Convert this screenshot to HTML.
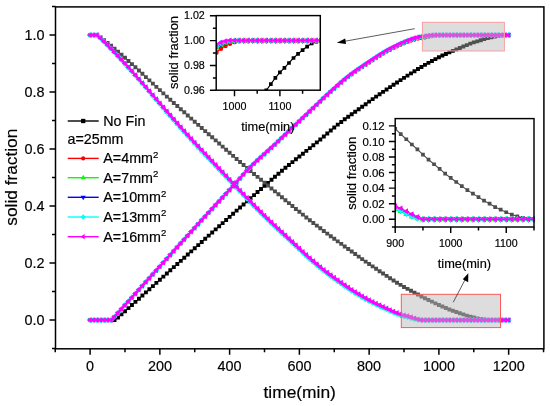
<!DOCTYPE html><html><head><meta charset="utf-8"><title>solid fraction</title><style>html,body{margin:0;padding:0;background:#fff}svg{display:block}text{stroke:#000;stroke-width:0.18px}</style></head><body><svg width="550" height="406" viewBox="0 0 550 406" font-family="'Liberation Sans', Arial, sans-serif" fill="#000"><rect width="550" height="406" fill="#fff"/><g><polyline points="90.10,320.10 93.59,320.10 97.08,320.10 100.56,320.10 104.05,320.10 107.54,320.10 111.03,320.10 114.52,320.10 118.00,317.54 121.49,314.40 124.98,311.26 128.47,308.12 131.96,304.97 135.44,301.83 138.93,298.68 142.42,295.53 145.91,292.38 149.40,289.23 152.88,286.08 156.37,282.92 159.86,279.77 163.35,276.61 166.84,273.46 170.32,270.30 173.81,267.15 177.30,264.00 180.79,260.84 184.28,257.69 187.76,254.54 191.25,251.39 194.74,248.24 198.23,245.10 201.72,241.95 205.20,238.81 208.69,235.67 212.18,232.53 215.67,229.40 219.16,226.27 222.64,223.14 226.13,220.01 229.62,216.89 233.11,213.78 236.60,210.66 240.08,207.55 243.57,204.44 247.06,201.33 250.55,198.23 254.04,195.13 257.52,192.04 261.01,188.96 264.50,185.89 267.99,182.84 271.48,179.78 274.96,176.73 278.45,173.70 281.94,170.73 285.43,167.80 288.92,164.93 292.40,162.10 295.89,159.29 299.38,156.49 302.87,153.71 306.36,150.91 309.84,148.10 313.33,145.26 316.82,142.38 320.31,139.44 323.80,136.44 327.28,133.44 330.77,130.45 334.26,127.52 337.75,124.67 341.24,121.94 344.72,119.31 348.21,116.77 351.70,114.27 355.19,111.79 358.68,109.30 362.16,106.77 365.65,104.22 369.14,101.66 372.63,99.11 376.12,96.62 379.60,94.19 383.09,91.83 386.58,89.48 390.07,87.14 393.56,84.80 397.04,82.47 400.53,80.17 404.02,77.88 407.51,75.63 411.00,73.40 414.48,71.21 417.97,69.06 421.46,66.96 424.95,64.91 428.44,62.91 431.92,60.97 435.41,59.09 438.90,57.29 442.39,55.56 445.88,53.93 449.36,52.37 452.85,50.87 456.34,49.40 459.83,47.95 463.32,46.50 466.80,45.08 470.29,43.65 473.78,42.37 477.27,41.37 480.76,40.23 484.24,39.09 487.73,38.15 491.22,37.27 494.71,36.47 498.20,35.76 501.68,35.33 505.17,35.10 508.66,35.10" fill="none" stroke="#000" stroke-width="1"/><path d="M88.15 318.15h3.90v3.90h-3.90zM91.64 318.15h3.90v3.90h-3.90zM95.13 318.15h3.90v3.90h-3.90zM98.61 318.15h3.90v3.90h-3.90zM102.10 318.15h3.90v3.90h-3.90zM105.59 318.15h3.90v3.90h-3.90zM109.08 318.15h3.90v3.90h-3.90zM112.57 318.15h3.90v3.90h-3.90zM116.05 315.59h3.90v3.90h-3.90zM119.54 312.45h3.90v3.90h-3.90zM123.03 309.31h3.90v3.90h-3.90zM126.52 306.17h3.90v3.90h-3.90zM130.01 303.02h3.90v3.90h-3.90zM133.49 299.88h3.90v3.90h-3.90zM136.98 296.73h3.90v3.90h-3.90zM140.47 293.58h3.90v3.90h-3.90zM143.96 290.43h3.90v3.90h-3.90zM147.45 287.28h3.90v3.90h-3.90zM150.93 284.13h3.90v3.90h-3.90zM154.42 280.97h3.90v3.90h-3.90zM157.91 277.82h3.90v3.90h-3.90zM161.40 274.66h3.90v3.90h-3.90zM164.89 271.51h3.90v3.90h-3.90zM168.37 268.35h3.90v3.90h-3.90zM171.86 265.20h3.90v3.90h-3.90zM175.35 262.05h3.90v3.90h-3.90zM178.84 258.89h3.90v3.90h-3.90zM182.33 255.74h3.90v3.90h-3.90zM185.81 252.59h3.90v3.90h-3.90zM189.30 249.44h3.90v3.90h-3.90zM192.79 246.29h3.90v3.90h-3.90zM196.28 243.15h3.90v3.90h-3.90zM199.77 240.00h3.90v3.90h-3.90zM203.25 236.86h3.90v3.90h-3.90zM206.74 233.72h3.90v3.90h-3.90zM210.23 230.58h3.90v3.90h-3.90zM213.72 227.45h3.90v3.90h-3.90zM217.21 224.32h3.90v3.90h-3.90zM220.69 221.19h3.90v3.90h-3.90zM224.18 218.06h3.90v3.90h-3.90zM227.67 214.94h3.90v3.90h-3.90zM231.16 211.83h3.90v3.90h-3.90zM234.65 208.71h3.90v3.90h-3.90zM238.13 205.60h3.90v3.90h-3.90zM241.62 202.49h3.90v3.90h-3.90zM245.11 199.38h3.90v3.90h-3.90zM248.60 196.28h3.90v3.90h-3.90zM252.09 193.18h3.90v3.90h-3.90zM255.57 190.09h3.90v3.90h-3.90zM259.06 187.01h3.90v3.90h-3.90zM262.55 183.94h3.90v3.90h-3.90zM266.04 180.89h3.90v3.90h-3.90zM269.53 177.83h3.90v3.90h-3.90zM273.01 174.78h3.90v3.90h-3.90zM276.50 171.75h3.90v3.90h-3.90zM279.99 168.78h3.90v3.90h-3.90zM283.48 165.85h3.90v3.90h-3.90zM286.97 162.98h3.90v3.90h-3.90zM290.45 160.15h3.90v3.90h-3.90zM293.94 157.34h3.90v3.90h-3.90zM297.43 154.54h3.90v3.90h-3.90zM300.92 151.76h3.90v3.90h-3.90zM304.41 148.96h3.90v3.90h-3.90zM307.89 146.15h3.90v3.90h-3.90zM311.38 143.31h3.90v3.90h-3.90zM314.87 140.43h3.90v3.90h-3.90zM318.36 137.49h3.90v3.90h-3.90zM321.85 134.49h3.90v3.90h-3.90zM325.33 131.49h3.90v3.90h-3.90zM328.82 128.50h3.90v3.90h-3.90zM332.31 125.57h3.90v3.90h-3.90zM335.80 122.72h3.90v3.90h-3.90zM339.29 119.99h3.90v3.90h-3.90zM342.77 117.36h3.90v3.90h-3.90zM346.26 114.82h3.90v3.90h-3.90zM349.75 112.32h3.90v3.90h-3.90zM353.24 109.84h3.90v3.90h-3.90zM356.73 107.35h3.90v3.90h-3.90zM360.21 104.82h3.90v3.90h-3.90zM363.70 102.27h3.90v3.90h-3.90zM367.19 99.71h3.90v3.90h-3.90zM370.68 97.16h3.90v3.90h-3.90zM374.17 94.67h3.90v3.90h-3.90zM377.65 92.24h3.90v3.90h-3.90zM381.14 89.88h3.90v3.90h-3.90zM384.63 87.53h3.90v3.90h-3.90zM388.12 85.19h3.90v3.90h-3.90zM391.61 82.85h3.90v3.90h-3.90zM395.09 80.52h3.90v3.90h-3.90zM398.58 78.22h3.90v3.90h-3.90zM402.07 75.93h3.90v3.90h-3.90zM405.56 73.68h3.90v3.90h-3.90zM409.05 71.45h3.90v3.90h-3.90zM412.53 69.26h3.90v3.90h-3.90zM416.02 67.11h3.90v3.90h-3.90zM419.51 65.01h3.90v3.90h-3.90zM423.00 62.96h3.90v3.90h-3.90zM426.49 60.96h3.90v3.90h-3.90zM429.97 59.02h3.90v3.90h-3.90zM433.46 57.14h3.90v3.90h-3.90zM436.95 55.34h3.90v3.90h-3.90zM440.44 53.61h3.90v3.90h-3.90zM443.93 51.98h3.90v3.90h-3.90zM447.41 50.42h3.90v3.90h-3.90zM450.90 48.92h3.90v3.90h-3.90zM454.39 47.45h3.90v3.90h-3.90zM457.88 46.00h3.90v3.90h-3.90zM461.37 44.55h3.90v3.90h-3.90zM464.85 43.13h3.90v3.90h-3.90zM468.34 41.70h3.90v3.90h-3.90zM471.83 40.42h3.90v3.90h-3.90zM475.32 39.42h3.90v3.90h-3.90zM478.81 38.28h3.90v3.90h-3.90zM482.29 37.14h3.90v3.90h-3.90zM485.78 36.20h3.90v3.90h-3.90zM489.27 35.32h3.90v3.90h-3.90zM492.76 34.52h3.90v3.90h-3.90zM496.25 33.81h3.90v3.90h-3.90zM499.73 33.38h3.90v3.90h-3.90zM503.22 33.15h3.90v3.90h-3.90zM506.71 33.15h3.90v3.90h-3.90z" fill="#000"/><polyline points="90.10,35.10 93.59,35.10 97.08,35.10 100.56,37.52 104.05,40.19 107.54,42.95 111.03,45.79 114.52,48.70 118.00,51.67 121.49,54.71 124.98,57.80 128.47,60.93 131.96,64.11 135.44,67.32 138.93,70.55 142.42,73.81 145.91,77.08 149.40,80.35 152.88,83.63 156.37,86.90 159.86,90.16 163.35,93.40 166.84,96.61 170.32,99.79 173.81,102.93 177.30,106.05 180.79,109.18 184.28,112.31 187.76,115.44 191.25,118.58 194.74,121.71 198.23,124.84 201.72,127.97 205.20,131.09 208.69,134.21 212.18,137.31 215.67,140.41 219.16,143.51 222.64,146.62 226.13,149.72 229.62,152.81 233.11,155.90 236.60,158.97 240.08,162.03 243.57,165.06 247.06,168.06 250.55,171.03 254.04,173.96 257.52,176.85 261.01,179.74 264.50,182.62 267.99,185.52 271.48,188.44 274.96,191.37 278.45,194.31 281.94,197.26 285.43,200.20 288.92,203.13 292.40,206.05 295.89,208.95 299.38,211.82 302.87,214.66 306.36,217.46 309.84,220.21 313.33,222.94 316.82,225.63 320.31,228.30 323.80,230.95 327.28,233.58 330.77,236.19 334.26,238.78 337.75,241.36 341.24,243.92 344.72,246.47 348.21,249.01 351.70,251.54 355.19,254.07 358.68,256.59 362.16,259.10 365.65,261.58 369.14,264.01 372.63,266.41 376.12,268.81 379.60,271.20 383.09,273.57 386.58,275.91 390.07,278.22 393.56,280.49 397.04,282.71 400.53,284.86 404.02,286.95 407.51,288.89 411.00,290.80 414.48,292.71 417.97,294.54 421.46,296.45 424.95,298.27 428.44,299.95 431.92,301.66 435.41,303.37 438.90,304.97 442.39,306.45 445.88,307.96 449.36,309.44 452.85,310.72 456.34,312.01 459.83,313.29 463.32,314.40 466.80,315.63 470.29,316.59 473.78,317.54 477.27,318.39 480.76,319.05 484.24,319.56 487.73,319.90 491.22,320.10 494.71,320.10 498.20,320.10 501.68,320.10 505.17,320.10 508.66,320.10" fill="none" stroke="#4d4d4d" stroke-width="1"/><path d="M88.15 33.15h3.90v3.90h-3.90zM91.64 33.15h3.90v3.90h-3.90zM95.13 33.15h3.90v3.90h-3.90zM98.61 35.57h3.90v3.90h-3.90zM102.10 38.24h3.90v3.90h-3.90zM105.59 41.00h3.90v3.90h-3.90zM109.08 43.84h3.90v3.90h-3.90zM112.57 46.75h3.90v3.90h-3.90zM116.05 49.72h3.90v3.90h-3.90zM119.54 52.76h3.90v3.90h-3.90zM123.03 55.85h3.90v3.90h-3.90zM126.52 58.98h3.90v3.90h-3.90zM130.01 62.16h3.90v3.90h-3.90zM133.49 65.37h3.90v3.90h-3.90zM136.98 68.60h3.90v3.90h-3.90zM140.47 71.86h3.90v3.90h-3.90zM143.96 75.13h3.90v3.90h-3.90zM147.45 78.40h3.90v3.90h-3.90zM150.93 81.68h3.90v3.90h-3.90zM154.42 84.95h3.90v3.90h-3.90zM157.91 88.21h3.90v3.90h-3.90zM161.40 91.45h3.90v3.90h-3.90zM164.89 94.66h3.90v3.90h-3.90zM168.37 97.84h3.90v3.90h-3.90zM171.86 100.98h3.90v3.90h-3.90zM175.35 104.10h3.90v3.90h-3.90zM178.84 107.23h3.90v3.90h-3.90zM182.33 110.36h3.90v3.90h-3.90zM185.81 113.49h3.90v3.90h-3.90zM189.30 116.63h3.90v3.90h-3.90zM192.79 119.76h3.90v3.90h-3.90zM196.28 122.89h3.90v3.90h-3.90zM199.77 126.02h3.90v3.90h-3.90zM203.25 129.14h3.90v3.90h-3.90zM206.74 132.26h3.90v3.90h-3.90zM210.23 135.36h3.90v3.90h-3.90zM213.72 138.46h3.90v3.90h-3.90zM217.21 141.56h3.90v3.90h-3.90zM220.69 144.67h3.90v3.90h-3.90zM224.18 147.77h3.90v3.90h-3.90zM227.67 150.86h3.90v3.90h-3.90zM231.16 153.95h3.90v3.90h-3.90zM234.65 157.02h3.90v3.90h-3.90zM238.13 160.08h3.90v3.90h-3.90zM241.62 163.11h3.90v3.90h-3.90zM245.11 166.11h3.90v3.90h-3.90zM248.60 169.08h3.90v3.90h-3.90zM252.09 172.01h3.90v3.90h-3.90zM255.57 174.90h3.90v3.90h-3.90zM259.06 177.79h3.90v3.90h-3.90zM262.55 180.67h3.90v3.90h-3.90zM266.04 183.57h3.90v3.90h-3.90zM269.53 186.49h3.90v3.90h-3.90zM273.01 189.42h3.90v3.90h-3.90zM276.50 192.36h3.90v3.90h-3.90zM279.99 195.31h3.90v3.90h-3.90zM283.48 198.25h3.90v3.90h-3.90zM286.97 201.18h3.90v3.90h-3.90zM290.45 204.10h3.90v3.90h-3.90zM293.94 207.00h3.90v3.90h-3.90zM297.43 209.87h3.90v3.90h-3.90zM300.92 212.71h3.90v3.90h-3.90zM304.41 215.51h3.90v3.90h-3.90zM307.89 218.26h3.90v3.90h-3.90zM311.38 220.99h3.90v3.90h-3.90zM314.87 223.68h3.90v3.90h-3.90zM318.36 226.35h3.90v3.90h-3.90zM321.85 229.00h3.90v3.90h-3.90zM325.33 231.63h3.90v3.90h-3.90zM328.82 234.24h3.90v3.90h-3.90zM332.31 236.83h3.90v3.90h-3.90zM335.80 239.41h3.90v3.90h-3.90zM339.29 241.97h3.90v3.90h-3.90zM342.77 244.52h3.90v3.90h-3.90zM346.26 247.06h3.90v3.90h-3.90zM349.75 249.59h3.90v3.90h-3.90zM353.24 252.12h3.90v3.90h-3.90zM356.73 254.64h3.90v3.90h-3.90zM360.21 257.15h3.90v3.90h-3.90zM363.70 259.63h3.90v3.90h-3.90zM367.19 262.06h3.90v3.90h-3.90zM370.68 264.46h3.90v3.90h-3.90zM374.17 266.86h3.90v3.90h-3.90zM377.65 269.25h3.90v3.90h-3.90zM381.14 271.62h3.90v3.90h-3.90zM384.63 273.96h3.90v3.90h-3.90zM388.12 276.27h3.90v3.90h-3.90zM391.61 278.54h3.90v3.90h-3.90zM395.09 280.76h3.90v3.90h-3.90zM398.58 282.91h3.90v3.90h-3.90zM402.07 285.00h3.90v3.90h-3.90zM405.56 286.94h3.90v3.90h-3.90zM409.05 288.85h3.90v3.90h-3.90zM412.53 290.76h3.90v3.90h-3.90zM416.02 292.59h3.90v3.90h-3.90zM419.51 294.50h3.90v3.90h-3.90zM423.00 296.32h3.90v3.90h-3.90zM426.49 298.00h3.90v3.90h-3.90zM429.97 299.71h3.90v3.90h-3.90zM433.46 301.42h3.90v3.90h-3.90zM436.95 303.02h3.90v3.90h-3.90zM440.44 304.50h3.90v3.90h-3.90zM443.93 306.01h3.90v3.90h-3.90zM447.41 307.49h3.90v3.90h-3.90zM450.90 308.77h3.90v3.90h-3.90zM454.39 310.06h3.90v3.90h-3.90zM457.88 311.34h3.90v3.90h-3.90zM461.37 312.45h3.90v3.90h-3.90zM464.85 313.68h3.90v3.90h-3.90zM468.34 314.64h3.90v3.90h-3.90zM471.83 315.59h3.90v3.90h-3.90zM475.32 316.44h3.90v3.90h-3.90zM478.81 317.10h3.90v3.90h-3.90zM482.29 317.61h3.90v3.90h-3.90zM485.78 317.95h3.90v3.90h-3.90zM489.27 318.15h3.90v3.90h-3.90zM492.76 318.15h3.90v3.90h-3.90zM496.25 318.15h3.90v3.90h-3.90zM499.73 318.15h3.90v3.90h-3.90zM503.22 318.15h3.90v3.90h-3.90zM506.71 318.15h3.90v3.90h-3.90z" fill="#4d4d4d"/><polyline points="90.10,35.10 93.59,35.10 97.08,35.10 100.56,38.25 104.05,41.66 107.54,45.15 111.03,48.72 114.52,52.36 118.00,56.06 121.49,59.81 124.98,63.63 128.47,67.49 131.96,71.39 135.44,75.33 138.93,79.31 142.42,83.31 145.91,87.33 149.40,91.37 152.88,95.42 156.37,99.48 159.86,103.53 163.35,107.58 166.84,111.63 170.32,115.65 173.81,119.66 177.30,123.63 180.79,127.58 184.28,131.49 187.76,135.36 191.25,139.18 194.74,142.96 198.23,146.71 201.72,150.45 205.20,154.18 208.69,157.89 212.18,161.60 215.67,165.29 219.16,168.97 222.64,172.65 226.13,176.31 229.62,179.97 233.11,183.62 236.60,187.28 240.08,190.94 243.57,194.60 247.06,198.25 250.55,201.88 254.04,205.48 257.52,209.04 261.01,212.55 264.50,216.00 267.99,219.39 271.48,222.74 274.96,226.05 278.45,229.32 281.94,232.58 285.43,235.83 288.92,239.07 292.40,242.31 295.89,245.58 299.38,248.88 302.87,252.17 306.36,255.41 309.84,258.53 313.33,261.55 316.82,264.52 320.31,267.43 323.80,270.24 327.28,272.97 330.77,275.58 334.26,278.13 337.75,280.64 341.24,283.11 344.72,285.53 348.21,287.90 351.70,290.20 355.19,292.43 358.68,294.59 362.16,296.67 365.65,298.67 369.14,300.56 372.63,302.31 376.12,303.98 379.60,305.59 383.09,307.22 386.58,308.86 390.07,310.46 393.56,311.99 397.04,313.41 400.53,314.67 404.02,315.74 407.51,316.54 411.00,317.59 414.48,318.62 417.97,319.52 421.46,320.10 424.95,320.10 428.44,320.10 431.92,320.10 435.41,320.10 438.90,320.10 442.39,320.10 445.88,320.10 449.36,320.10 452.85,320.10 456.34,320.10 459.83,320.10 463.32,320.10 466.80,320.10 470.29,320.10 473.78,320.10 477.27,320.10 480.76,320.10 484.24,320.10 487.73,320.10 491.22,320.10 494.71,320.10 498.20,320.10 501.68,320.10 505.17,320.10 508.66,320.10" fill="none" stroke="#ff0000" stroke-width="1.2"/><path d="M88.27 35.10a1.83 1.83 0 1 0 3.65 0a1.83 1.83 0 1 0 -3.65 0zM91.76 35.10a1.83 1.83 0 1 0 3.65 0a1.83 1.83 0 1 0 -3.65 0zM95.25 35.10a1.83 1.83 0 1 0 3.65 0a1.83 1.83 0 1 0 -3.65 0zM98.74 38.25a1.83 1.83 0 1 0 3.65 0a1.83 1.83 0 1 0 -3.65 0zM102.22 41.66a1.83 1.83 0 1 0 3.65 0a1.83 1.83 0 1 0 -3.65 0zM105.71 45.15a1.83 1.83 0 1 0 3.65 0a1.83 1.83 0 1 0 -3.65 0zM109.20 48.72a1.83 1.83 0 1 0 3.65 0a1.83 1.83 0 1 0 -3.65 0zM112.69 52.36a1.83 1.83 0 1 0 3.65 0a1.83 1.83 0 1 0 -3.65 0zM116.18 56.06a1.83 1.83 0 1 0 3.65 0a1.83 1.83 0 1 0 -3.65 0zM119.66 59.81a1.83 1.83 0 1 0 3.65 0a1.83 1.83 0 1 0 -3.65 0zM123.15 63.63a1.83 1.83 0 1 0 3.65 0a1.83 1.83 0 1 0 -3.65 0zM126.64 67.49a1.83 1.83 0 1 0 3.65 0a1.83 1.83 0 1 0 -3.65 0zM130.13 71.39a1.83 1.83 0 1 0 3.65 0a1.83 1.83 0 1 0 -3.65 0zM133.62 75.33a1.83 1.83 0 1 0 3.65 0a1.83 1.83 0 1 0 -3.65 0zM137.10 79.31a1.83 1.83 0 1 0 3.65 0a1.83 1.83 0 1 0 -3.65 0zM140.59 83.31a1.83 1.83 0 1 0 3.65 0a1.83 1.83 0 1 0 -3.65 0zM144.08 87.33a1.83 1.83 0 1 0 3.65 0a1.83 1.83 0 1 0 -3.65 0zM147.57 91.37a1.83 1.83 0 1 0 3.65 0a1.83 1.83 0 1 0 -3.65 0zM151.06 95.42a1.83 1.83 0 1 0 3.65 0a1.83 1.83 0 1 0 -3.65 0zM154.54 99.48a1.83 1.83 0 1 0 3.65 0a1.83 1.83 0 1 0 -3.65 0zM158.03 103.53a1.83 1.83 0 1 0 3.65 0a1.83 1.83 0 1 0 -3.65 0zM161.52 107.58a1.83 1.83 0 1 0 3.65 0a1.83 1.83 0 1 0 -3.65 0zM165.01 111.63a1.83 1.83 0 1 0 3.65 0a1.83 1.83 0 1 0 -3.65 0zM168.50 115.65a1.83 1.83 0 1 0 3.65 0a1.83 1.83 0 1 0 -3.65 0zM171.98 119.66a1.83 1.83 0 1 0 3.65 0a1.83 1.83 0 1 0 -3.65 0zM175.47 123.63a1.83 1.83 0 1 0 3.65 0a1.83 1.83 0 1 0 -3.65 0zM178.96 127.58a1.83 1.83 0 1 0 3.65 0a1.83 1.83 0 1 0 -3.65 0zM182.45 131.49a1.83 1.83 0 1 0 3.65 0a1.83 1.83 0 1 0 -3.65 0zM185.94 135.36a1.83 1.83 0 1 0 3.65 0a1.83 1.83 0 1 0 -3.65 0zM189.42 139.18a1.83 1.83 0 1 0 3.65 0a1.83 1.83 0 1 0 -3.65 0zM192.91 142.96a1.83 1.83 0 1 0 3.65 0a1.83 1.83 0 1 0 -3.65 0zM196.40 146.71a1.83 1.83 0 1 0 3.65 0a1.83 1.83 0 1 0 -3.65 0zM199.89 150.45a1.83 1.83 0 1 0 3.65 0a1.83 1.83 0 1 0 -3.65 0zM203.38 154.18a1.83 1.83 0 1 0 3.65 0a1.83 1.83 0 1 0 -3.65 0zM206.86 157.89a1.83 1.83 0 1 0 3.65 0a1.83 1.83 0 1 0 -3.65 0zM210.35 161.60a1.83 1.83 0 1 0 3.65 0a1.83 1.83 0 1 0 -3.65 0zM213.84 165.29a1.83 1.83 0 1 0 3.65 0a1.83 1.83 0 1 0 -3.65 0zM217.33 168.97a1.83 1.83 0 1 0 3.65 0a1.83 1.83 0 1 0 -3.65 0zM220.82 172.65a1.83 1.83 0 1 0 3.65 0a1.83 1.83 0 1 0 -3.65 0zM224.30 176.31a1.83 1.83 0 1 0 3.65 0a1.83 1.83 0 1 0 -3.65 0zM227.79 179.97a1.83 1.83 0 1 0 3.65 0a1.83 1.83 0 1 0 -3.65 0zM231.28 183.62a1.83 1.83 0 1 0 3.65 0a1.83 1.83 0 1 0 -3.65 0zM234.77 187.28a1.83 1.83 0 1 0 3.65 0a1.83 1.83 0 1 0 -3.65 0zM238.26 190.94a1.83 1.83 0 1 0 3.65 0a1.83 1.83 0 1 0 -3.65 0zM241.74 194.60a1.83 1.83 0 1 0 3.65 0a1.83 1.83 0 1 0 -3.65 0zM245.23 198.25a1.83 1.83 0 1 0 3.65 0a1.83 1.83 0 1 0 -3.65 0zM248.72 201.88a1.83 1.83 0 1 0 3.65 0a1.83 1.83 0 1 0 -3.65 0zM252.21 205.48a1.83 1.83 0 1 0 3.65 0a1.83 1.83 0 1 0 -3.65 0zM255.70 209.04a1.83 1.83 0 1 0 3.65 0a1.83 1.83 0 1 0 -3.65 0zM259.18 212.55a1.83 1.83 0 1 0 3.65 0a1.83 1.83 0 1 0 -3.65 0zM262.67 216.00a1.83 1.83 0 1 0 3.65 0a1.83 1.83 0 1 0 -3.65 0zM266.16 219.39a1.83 1.83 0 1 0 3.65 0a1.83 1.83 0 1 0 -3.65 0zM269.65 222.74a1.83 1.83 0 1 0 3.65 0a1.83 1.83 0 1 0 -3.65 0zM273.14 226.05a1.83 1.83 0 1 0 3.65 0a1.83 1.83 0 1 0 -3.65 0zM276.62 229.32a1.83 1.83 0 1 0 3.65 0a1.83 1.83 0 1 0 -3.65 0zM280.11 232.58a1.83 1.83 0 1 0 3.65 0a1.83 1.83 0 1 0 -3.65 0zM283.60 235.83a1.83 1.83 0 1 0 3.65 0a1.83 1.83 0 1 0 -3.65 0zM287.09 239.07a1.83 1.83 0 1 0 3.65 0a1.83 1.83 0 1 0 -3.65 0zM290.58 242.31a1.83 1.83 0 1 0 3.65 0a1.83 1.83 0 1 0 -3.65 0zM294.06 245.58a1.83 1.83 0 1 0 3.65 0a1.83 1.83 0 1 0 -3.65 0zM297.55 248.88a1.83 1.83 0 1 0 3.65 0a1.83 1.83 0 1 0 -3.65 0zM301.04 252.17a1.83 1.83 0 1 0 3.65 0a1.83 1.83 0 1 0 -3.65 0zM304.53 255.41a1.83 1.83 0 1 0 3.65 0a1.83 1.83 0 1 0 -3.65 0zM308.02 258.53a1.83 1.83 0 1 0 3.65 0a1.83 1.83 0 1 0 -3.65 0zM311.50 261.55a1.83 1.83 0 1 0 3.65 0a1.83 1.83 0 1 0 -3.65 0zM314.99 264.52a1.83 1.83 0 1 0 3.65 0a1.83 1.83 0 1 0 -3.65 0zM318.48 267.43a1.83 1.83 0 1 0 3.65 0a1.83 1.83 0 1 0 -3.65 0zM321.97 270.24a1.83 1.83 0 1 0 3.65 0a1.83 1.83 0 1 0 -3.65 0zM325.46 272.97a1.83 1.83 0 1 0 3.65 0a1.83 1.83 0 1 0 -3.65 0zM328.94 275.58a1.83 1.83 0 1 0 3.65 0a1.83 1.83 0 1 0 -3.65 0zM332.43 278.13a1.83 1.83 0 1 0 3.65 0a1.83 1.83 0 1 0 -3.65 0zM335.92 280.64a1.83 1.83 0 1 0 3.65 0a1.83 1.83 0 1 0 -3.65 0zM339.41 283.11a1.83 1.83 0 1 0 3.65 0a1.83 1.83 0 1 0 -3.65 0zM342.90 285.53a1.83 1.83 0 1 0 3.65 0a1.83 1.83 0 1 0 -3.65 0zM346.38 287.90a1.83 1.83 0 1 0 3.65 0a1.83 1.83 0 1 0 -3.65 0zM349.87 290.20a1.83 1.83 0 1 0 3.65 0a1.83 1.83 0 1 0 -3.65 0zM353.36 292.43a1.83 1.83 0 1 0 3.65 0a1.83 1.83 0 1 0 -3.65 0zM356.85 294.59a1.83 1.83 0 1 0 3.65 0a1.83 1.83 0 1 0 -3.65 0zM360.34 296.67a1.83 1.83 0 1 0 3.65 0a1.83 1.83 0 1 0 -3.65 0zM363.82 298.67a1.83 1.83 0 1 0 3.65 0a1.83 1.83 0 1 0 -3.65 0zM367.31 300.56a1.83 1.83 0 1 0 3.65 0a1.83 1.83 0 1 0 -3.65 0zM370.80 302.31a1.83 1.83 0 1 0 3.65 0a1.83 1.83 0 1 0 -3.65 0zM374.29 303.98a1.83 1.83 0 1 0 3.65 0a1.83 1.83 0 1 0 -3.65 0zM377.78 305.59a1.83 1.83 0 1 0 3.65 0a1.83 1.83 0 1 0 -3.65 0zM381.26 307.22a1.83 1.83 0 1 0 3.65 0a1.83 1.83 0 1 0 -3.65 0zM384.75 308.86a1.83 1.83 0 1 0 3.65 0a1.83 1.83 0 1 0 -3.65 0zM388.24 310.46a1.83 1.83 0 1 0 3.65 0a1.83 1.83 0 1 0 -3.65 0zM391.73 311.99a1.83 1.83 0 1 0 3.65 0a1.83 1.83 0 1 0 -3.65 0zM395.22 313.41a1.83 1.83 0 1 0 3.65 0a1.83 1.83 0 1 0 -3.65 0zM398.70 314.67a1.83 1.83 0 1 0 3.65 0a1.83 1.83 0 1 0 -3.65 0zM402.19 315.74a1.83 1.83 0 1 0 3.65 0a1.83 1.83 0 1 0 -3.65 0zM405.68 316.54a1.83 1.83 0 1 0 3.65 0a1.83 1.83 0 1 0 -3.65 0zM409.17 317.59a1.83 1.83 0 1 0 3.65 0a1.83 1.83 0 1 0 -3.65 0zM412.66 318.62a1.83 1.83 0 1 0 3.65 0a1.83 1.83 0 1 0 -3.65 0zM416.14 319.52a1.83 1.83 0 1 0 3.65 0a1.83 1.83 0 1 0 -3.65 0zM419.63 320.10a1.83 1.83 0 1 0 3.65 0a1.83 1.83 0 1 0 -3.65 0zM423.12 320.10a1.83 1.83 0 1 0 3.65 0a1.83 1.83 0 1 0 -3.65 0zM426.61 320.10a1.83 1.83 0 1 0 3.65 0a1.83 1.83 0 1 0 -3.65 0zM430.10 320.10a1.83 1.83 0 1 0 3.65 0a1.83 1.83 0 1 0 -3.65 0zM433.58 320.10a1.83 1.83 0 1 0 3.65 0a1.83 1.83 0 1 0 -3.65 0zM437.07 320.10a1.83 1.83 0 1 0 3.65 0a1.83 1.83 0 1 0 -3.65 0zM440.56 320.10a1.83 1.83 0 1 0 3.65 0a1.83 1.83 0 1 0 -3.65 0zM444.05 320.10a1.83 1.83 0 1 0 3.65 0a1.83 1.83 0 1 0 -3.65 0zM447.54 320.10a1.83 1.83 0 1 0 3.65 0a1.83 1.83 0 1 0 -3.65 0zM451.02 320.10a1.83 1.83 0 1 0 3.65 0a1.83 1.83 0 1 0 -3.65 0zM454.51 320.10a1.83 1.83 0 1 0 3.65 0a1.83 1.83 0 1 0 -3.65 0zM458.00 320.10a1.83 1.83 0 1 0 3.65 0a1.83 1.83 0 1 0 -3.65 0zM461.49 320.10a1.83 1.83 0 1 0 3.65 0a1.83 1.83 0 1 0 -3.65 0zM464.98 320.10a1.83 1.83 0 1 0 3.65 0a1.83 1.83 0 1 0 -3.65 0zM468.46 320.10a1.83 1.83 0 1 0 3.65 0a1.83 1.83 0 1 0 -3.65 0zM471.95 320.10a1.83 1.83 0 1 0 3.65 0a1.83 1.83 0 1 0 -3.65 0zM475.44 320.10a1.83 1.83 0 1 0 3.65 0a1.83 1.83 0 1 0 -3.65 0zM478.93 320.10a1.83 1.83 0 1 0 3.65 0a1.83 1.83 0 1 0 -3.65 0zM482.42 320.10a1.83 1.83 0 1 0 3.65 0a1.83 1.83 0 1 0 -3.65 0zM485.90 320.10a1.83 1.83 0 1 0 3.65 0a1.83 1.83 0 1 0 -3.65 0zM489.39 320.10a1.83 1.83 0 1 0 3.65 0a1.83 1.83 0 1 0 -3.65 0zM492.88 320.10a1.83 1.83 0 1 0 3.65 0a1.83 1.83 0 1 0 -3.65 0zM496.37 320.10a1.83 1.83 0 1 0 3.65 0a1.83 1.83 0 1 0 -3.65 0zM499.86 320.10a1.83 1.83 0 1 0 3.65 0a1.83 1.83 0 1 0 -3.65 0zM503.34 320.10a1.83 1.83 0 1 0 3.65 0a1.83 1.83 0 1 0 -3.65 0zM506.83 320.10a1.83 1.83 0 1 0 3.65 0a1.83 1.83 0 1 0 -3.65 0z" fill="#ff0000"/><polyline points="90.10,320.10 93.59,320.10 97.08,320.10 100.56,320.10 104.05,320.10 107.54,320.10 111.03,320.10 114.52,316.68 118.00,312.83 121.49,308.98 124.98,305.12 128.47,301.26 131.96,297.39 135.44,293.52 138.93,289.65 142.42,285.78 145.91,281.90 149.40,278.03 152.88,274.15 156.37,270.28 159.86,266.40 163.35,262.53 166.84,258.65 170.32,254.78 173.81,250.91 177.30,247.05 180.79,243.19 184.28,239.33 187.76,235.47 191.25,231.62 194.74,227.78 198.23,223.94 201.72,220.11 205.20,216.29 208.69,212.47 212.18,208.67 215.67,204.90 219.16,201.13 222.64,197.36 226.13,193.58 229.62,189.80 233.11,185.99 236.60,182.14 240.08,178.18 243.57,174.24 247.06,170.44 250.55,166.89 254.04,163.49 257.52,160.21 261.01,157.01 264.50,153.85 267.99,150.73 271.48,147.59 274.96,144.38 278.45,141.11 281.94,137.83 285.43,134.53 288.92,131.23 292.40,127.92 295.89,124.62 299.38,121.33 302.87,118.05 306.36,114.77 309.84,111.48 313.33,108.17 316.82,104.86 320.31,101.57 323.80,98.30 327.28,95.06 330.77,91.86 334.26,88.73 337.75,85.69 341.24,82.71 344.72,79.81 348.21,77.04 351.70,74.45 355.19,71.98 358.68,69.60 362.16,67.28 365.65,65.01 369.14,62.75 372.63,60.46 376.12,58.18 379.60,55.95 383.09,53.82 386.58,51.84 390.07,49.99 393.56,48.22 397.04,46.55 400.53,44.97 404.02,43.51 407.51,42.09 411.00,40.79 414.48,39.70 417.97,38.81 421.46,38.16 424.95,37.81 428.44,36.90 431.92,36.27 435.41,35.76 438.90,35.39 442.39,35.10 445.88,35.10 449.36,35.10 452.85,35.10 456.34,35.10 459.83,35.10 463.32,35.10 466.80,35.10 470.29,35.10 473.78,35.10 477.27,35.10 480.76,35.10 484.24,35.10 487.73,35.10 491.22,35.10 494.71,35.10 498.20,35.10 501.68,35.10 505.17,35.10 508.66,35.10" fill="none" stroke="#ff0000" stroke-width="1.2"/><path d="M88.27 320.10a1.83 1.83 0 1 0 3.65 0a1.83 1.83 0 1 0 -3.65 0zM91.76 320.10a1.83 1.83 0 1 0 3.65 0a1.83 1.83 0 1 0 -3.65 0zM95.25 320.10a1.83 1.83 0 1 0 3.65 0a1.83 1.83 0 1 0 -3.65 0zM98.74 320.10a1.83 1.83 0 1 0 3.65 0a1.83 1.83 0 1 0 -3.65 0zM102.22 320.10a1.83 1.83 0 1 0 3.65 0a1.83 1.83 0 1 0 -3.65 0zM105.71 320.10a1.83 1.83 0 1 0 3.65 0a1.83 1.83 0 1 0 -3.65 0zM109.20 320.10a1.83 1.83 0 1 0 3.65 0a1.83 1.83 0 1 0 -3.65 0zM112.69 316.68a1.83 1.83 0 1 0 3.65 0a1.83 1.83 0 1 0 -3.65 0zM116.18 312.83a1.83 1.83 0 1 0 3.65 0a1.83 1.83 0 1 0 -3.65 0zM119.66 308.98a1.83 1.83 0 1 0 3.65 0a1.83 1.83 0 1 0 -3.65 0zM123.15 305.12a1.83 1.83 0 1 0 3.65 0a1.83 1.83 0 1 0 -3.65 0zM126.64 301.26a1.83 1.83 0 1 0 3.65 0a1.83 1.83 0 1 0 -3.65 0zM130.13 297.39a1.83 1.83 0 1 0 3.65 0a1.83 1.83 0 1 0 -3.65 0zM133.62 293.52a1.83 1.83 0 1 0 3.65 0a1.83 1.83 0 1 0 -3.65 0zM137.10 289.65a1.83 1.83 0 1 0 3.65 0a1.83 1.83 0 1 0 -3.65 0zM140.59 285.78a1.83 1.83 0 1 0 3.65 0a1.83 1.83 0 1 0 -3.65 0zM144.08 281.90a1.83 1.83 0 1 0 3.65 0a1.83 1.83 0 1 0 -3.65 0zM147.57 278.03a1.83 1.83 0 1 0 3.65 0a1.83 1.83 0 1 0 -3.65 0zM151.06 274.15a1.83 1.83 0 1 0 3.65 0a1.83 1.83 0 1 0 -3.65 0zM154.54 270.28a1.83 1.83 0 1 0 3.65 0a1.83 1.83 0 1 0 -3.65 0zM158.03 266.40a1.83 1.83 0 1 0 3.65 0a1.83 1.83 0 1 0 -3.65 0zM161.52 262.53a1.83 1.83 0 1 0 3.65 0a1.83 1.83 0 1 0 -3.65 0zM165.01 258.65a1.83 1.83 0 1 0 3.65 0a1.83 1.83 0 1 0 -3.65 0zM168.50 254.78a1.83 1.83 0 1 0 3.65 0a1.83 1.83 0 1 0 -3.65 0zM171.98 250.91a1.83 1.83 0 1 0 3.65 0a1.83 1.83 0 1 0 -3.65 0zM175.47 247.05a1.83 1.83 0 1 0 3.65 0a1.83 1.83 0 1 0 -3.65 0zM178.96 243.19a1.83 1.83 0 1 0 3.65 0a1.83 1.83 0 1 0 -3.65 0zM182.45 239.33a1.83 1.83 0 1 0 3.65 0a1.83 1.83 0 1 0 -3.65 0zM185.94 235.47a1.83 1.83 0 1 0 3.65 0a1.83 1.83 0 1 0 -3.65 0zM189.42 231.62a1.83 1.83 0 1 0 3.65 0a1.83 1.83 0 1 0 -3.65 0zM192.91 227.78a1.83 1.83 0 1 0 3.65 0a1.83 1.83 0 1 0 -3.65 0zM196.40 223.94a1.83 1.83 0 1 0 3.65 0a1.83 1.83 0 1 0 -3.65 0zM199.89 220.11a1.83 1.83 0 1 0 3.65 0a1.83 1.83 0 1 0 -3.65 0zM203.38 216.29a1.83 1.83 0 1 0 3.65 0a1.83 1.83 0 1 0 -3.65 0zM206.86 212.47a1.83 1.83 0 1 0 3.65 0a1.83 1.83 0 1 0 -3.65 0zM210.35 208.67a1.83 1.83 0 1 0 3.65 0a1.83 1.83 0 1 0 -3.65 0zM213.84 204.90a1.83 1.83 0 1 0 3.65 0a1.83 1.83 0 1 0 -3.65 0zM217.33 201.13a1.83 1.83 0 1 0 3.65 0a1.83 1.83 0 1 0 -3.65 0zM220.82 197.36a1.83 1.83 0 1 0 3.65 0a1.83 1.83 0 1 0 -3.65 0zM224.30 193.58a1.83 1.83 0 1 0 3.65 0a1.83 1.83 0 1 0 -3.65 0zM227.79 189.80a1.83 1.83 0 1 0 3.65 0a1.83 1.83 0 1 0 -3.65 0zM231.28 185.99a1.83 1.83 0 1 0 3.65 0a1.83 1.83 0 1 0 -3.65 0zM234.77 182.14a1.83 1.83 0 1 0 3.65 0a1.83 1.83 0 1 0 -3.65 0zM238.26 178.18a1.83 1.83 0 1 0 3.65 0a1.83 1.83 0 1 0 -3.65 0zM241.74 174.24a1.83 1.83 0 1 0 3.65 0a1.83 1.83 0 1 0 -3.65 0zM245.23 170.44a1.83 1.83 0 1 0 3.65 0a1.83 1.83 0 1 0 -3.65 0zM248.72 166.89a1.83 1.83 0 1 0 3.65 0a1.83 1.83 0 1 0 -3.65 0zM252.21 163.49a1.83 1.83 0 1 0 3.65 0a1.83 1.83 0 1 0 -3.65 0zM255.70 160.21a1.83 1.83 0 1 0 3.65 0a1.83 1.83 0 1 0 -3.65 0zM259.18 157.01a1.83 1.83 0 1 0 3.65 0a1.83 1.83 0 1 0 -3.65 0zM262.67 153.85a1.83 1.83 0 1 0 3.65 0a1.83 1.83 0 1 0 -3.65 0zM266.16 150.73a1.83 1.83 0 1 0 3.65 0a1.83 1.83 0 1 0 -3.65 0zM269.65 147.59a1.83 1.83 0 1 0 3.65 0a1.83 1.83 0 1 0 -3.65 0zM273.14 144.38a1.83 1.83 0 1 0 3.65 0a1.83 1.83 0 1 0 -3.65 0zM276.62 141.11a1.83 1.83 0 1 0 3.65 0a1.83 1.83 0 1 0 -3.65 0zM280.11 137.83a1.83 1.83 0 1 0 3.65 0a1.83 1.83 0 1 0 -3.65 0zM283.60 134.53a1.83 1.83 0 1 0 3.65 0a1.83 1.83 0 1 0 -3.65 0zM287.09 131.23a1.83 1.83 0 1 0 3.65 0a1.83 1.83 0 1 0 -3.65 0zM290.58 127.92a1.83 1.83 0 1 0 3.65 0a1.83 1.83 0 1 0 -3.65 0zM294.06 124.62a1.83 1.83 0 1 0 3.65 0a1.83 1.83 0 1 0 -3.65 0zM297.55 121.33a1.83 1.83 0 1 0 3.65 0a1.83 1.83 0 1 0 -3.65 0zM301.04 118.05a1.83 1.83 0 1 0 3.65 0a1.83 1.83 0 1 0 -3.65 0zM304.53 114.77a1.83 1.83 0 1 0 3.65 0a1.83 1.83 0 1 0 -3.65 0zM308.02 111.48a1.83 1.83 0 1 0 3.65 0a1.83 1.83 0 1 0 -3.65 0zM311.50 108.17a1.83 1.83 0 1 0 3.65 0a1.83 1.83 0 1 0 -3.65 0zM314.99 104.86a1.83 1.83 0 1 0 3.65 0a1.83 1.83 0 1 0 -3.65 0zM318.48 101.57a1.83 1.83 0 1 0 3.65 0a1.83 1.83 0 1 0 -3.65 0zM321.97 98.30a1.83 1.83 0 1 0 3.65 0a1.83 1.83 0 1 0 -3.65 0zM325.46 95.06a1.83 1.83 0 1 0 3.65 0a1.83 1.83 0 1 0 -3.65 0zM328.94 91.86a1.83 1.83 0 1 0 3.65 0a1.83 1.83 0 1 0 -3.65 0zM332.43 88.73a1.83 1.83 0 1 0 3.65 0a1.83 1.83 0 1 0 -3.65 0zM335.92 85.69a1.83 1.83 0 1 0 3.65 0a1.83 1.83 0 1 0 -3.65 0zM339.41 82.71a1.83 1.83 0 1 0 3.65 0a1.83 1.83 0 1 0 -3.65 0zM342.90 79.81a1.83 1.83 0 1 0 3.65 0a1.83 1.83 0 1 0 -3.65 0zM346.38 77.04a1.83 1.83 0 1 0 3.65 0a1.83 1.83 0 1 0 -3.65 0zM349.87 74.45a1.83 1.83 0 1 0 3.65 0a1.83 1.83 0 1 0 -3.65 0zM353.36 71.98a1.83 1.83 0 1 0 3.65 0a1.83 1.83 0 1 0 -3.65 0zM356.85 69.60a1.83 1.83 0 1 0 3.65 0a1.83 1.83 0 1 0 -3.65 0zM360.34 67.28a1.83 1.83 0 1 0 3.65 0a1.83 1.83 0 1 0 -3.65 0zM363.82 65.01a1.83 1.83 0 1 0 3.65 0a1.83 1.83 0 1 0 -3.65 0zM367.31 62.75a1.83 1.83 0 1 0 3.65 0a1.83 1.83 0 1 0 -3.65 0zM370.80 60.46a1.83 1.83 0 1 0 3.65 0a1.83 1.83 0 1 0 -3.65 0zM374.29 58.18a1.83 1.83 0 1 0 3.65 0a1.83 1.83 0 1 0 -3.65 0zM377.78 55.95a1.83 1.83 0 1 0 3.65 0a1.83 1.83 0 1 0 -3.65 0zM381.26 53.82a1.83 1.83 0 1 0 3.65 0a1.83 1.83 0 1 0 -3.65 0zM384.75 51.84a1.83 1.83 0 1 0 3.65 0a1.83 1.83 0 1 0 -3.65 0zM388.24 49.99a1.83 1.83 0 1 0 3.65 0a1.83 1.83 0 1 0 -3.65 0zM391.73 48.22a1.83 1.83 0 1 0 3.65 0a1.83 1.83 0 1 0 -3.65 0zM395.22 46.55a1.83 1.83 0 1 0 3.65 0a1.83 1.83 0 1 0 -3.65 0zM398.70 44.97a1.83 1.83 0 1 0 3.65 0a1.83 1.83 0 1 0 -3.65 0zM402.19 43.51a1.83 1.83 0 1 0 3.65 0a1.83 1.83 0 1 0 -3.65 0zM405.68 42.09a1.83 1.83 0 1 0 3.65 0a1.83 1.83 0 1 0 -3.65 0zM409.17 40.79a1.83 1.83 0 1 0 3.65 0a1.83 1.83 0 1 0 -3.65 0zM412.66 39.70a1.83 1.83 0 1 0 3.65 0a1.83 1.83 0 1 0 -3.65 0zM416.14 38.81a1.83 1.83 0 1 0 3.65 0a1.83 1.83 0 1 0 -3.65 0zM419.63 38.16a1.83 1.83 0 1 0 3.65 0a1.83 1.83 0 1 0 -3.65 0zM423.12 37.81a1.83 1.83 0 1 0 3.65 0a1.83 1.83 0 1 0 -3.65 0zM426.61 36.90a1.83 1.83 0 1 0 3.65 0a1.83 1.83 0 1 0 -3.65 0zM430.10 36.27a1.83 1.83 0 1 0 3.65 0a1.83 1.83 0 1 0 -3.65 0zM433.58 35.76a1.83 1.83 0 1 0 3.65 0a1.83 1.83 0 1 0 -3.65 0zM437.07 35.39a1.83 1.83 0 1 0 3.65 0a1.83 1.83 0 1 0 -3.65 0zM440.56 35.10a1.83 1.83 0 1 0 3.65 0a1.83 1.83 0 1 0 -3.65 0zM444.05 35.10a1.83 1.83 0 1 0 3.65 0a1.83 1.83 0 1 0 -3.65 0zM447.54 35.10a1.83 1.83 0 1 0 3.65 0a1.83 1.83 0 1 0 -3.65 0zM451.02 35.10a1.83 1.83 0 1 0 3.65 0a1.83 1.83 0 1 0 -3.65 0zM454.51 35.10a1.83 1.83 0 1 0 3.65 0a1.83 1.83 0 1 0 -3.65 0zM458.00 35.10a1.83 1.83 0 1 0 3.65 0a1.83 1.83 0 1 0 -3.65 0zM461.49 35.10a1.83 1.83 0 1 0 3.65 0a1.83 1.83 0 1 0 -3.65 0zM464.98 35.10a1.83 1.83 0 1 0 3.65 0a1.83 1.83 0 1 0 -3.65 0zM468.46 35.10a1.83 1.83 0 1 0 3.65 0a1.83 1.83 0 1 0 -3.65 0zM471.95 35.10a1.83 1.83 0 1 0 3.65 0a1.83 1.83 0 1 0 -3.65 0zM475.44 35.10a1.83 1.83 0 1 0 3.65 0a1.83 1.83 0 1 0 -3.65 0zM478.93 35.10a1.83 1.83 0 1 0 3.65 0a1.83 1.83 0 1 0 -3.65 0zM482.42 35.10a1.83 1.83 0 1 0 3.65 0a1.83 1.83 0 1 0 -3.65 0zM485.90 35.10a1.83 1.83 0 1 0 3.65 0a1.83 1.83 0 1 0 -3.65 0zM489.39 35.10a1.83 1.83 0 1 0 3.65 0a1.83 1.83 0 1 0 -3.65 0zM492.88 35.10a1.83 1.83 0 1 0 3.65 0a1.83 1.83 0 1 0 -3.65 0zM496.37 35.10a1.83 1.83 0 1 0 3.65 0a1.83 1.83 0 1 0 -3.65 0zM499.86 35.10a1.83 1.83 0 1 0 3.65 0a1.83 1.83 0 1 0 -3.65 0zM503.34 35.10a1.83 1.83 0 1 0 3.65 0a1.83 1.83 0 1 0 -3.65 0zM506.83 35.10a1.83 1.83 0 1 0 3.65 0a1.83 1.83 0 1 0 -3.65 0z" fill="#ff0000"/><polyline points="90.10,35.10 93.59,35.10 97.08,35.10 100.56,38.27 104.05,41.71 107.54,45.23 111.03,48.82 114.52,52.48 118.00,56.20 121.49,59.99 124.98,63.82 128.47,67.71 131.96,71.64 135.44,75.60 138.93,79.60 142.42,83.63 145.91,87.67 149.40,91.74 152.88,95.81 156.37,99.89 159.86,103.97 163.35,108.05 166.84,112.11 170.32,116.16 173.81,120.19 177.30,124.20 180.79,128.17 184.28,132.10 187.76,135.99 191.25,139.84 194.74,143.65 198.23,147.40 201.72,151.14 205.20,154.86 208.69,158.58 212.18,162.28 215.67,165.97 219.16,169.66 222.64,173.33 226.13,177.00 229.62,180.66 233.11,184.31 236.60,187.96 240.08,191.62 243.57,195.28 247.06,198.93 250.55,202.56 254.04,206.17 257.52,209.73 261.01,213.24 264.50,216.68 267.99,220.08 271.48,223.42 274.96,226.73 278.45,230.01 281.94,233.27 285.43,236.51 288.92,239.75 292.40,243.00 295.89,246.26 299.38,249.56 302.87,252.86 306.36,256.09 309.84,259.22 313.33,262.24 316.82,265.21 320.31,268.11 323.80,270.93 327.28,273.65 330.77,276.26 334.26,278.81 337.75,281.33 341.24,283.80 344.72,286.22 348.21,288.58 351.70,290.88 355.19,293.12 358.68,295.28 362.16,297.36 365.65,299.35 369.14,301.24 372.63,303.00 376.12,304.66 379.60,306.27 383.09,307.91 386.58,309.55 390.07,311.15 393.56,312.68 397.04,314.09 400.53,315.35 404.02,316.42 407.51,317.22 411.00,318.28 414.48,319.21 417.97,319.86 421.46,320.10 424.95,320.10 428.44,320.10 431.92,320.10 435.41,320.10 438.90,320.10 442.39,320.10 445.88,320.10 449.36,320.10 452.85,320.10 456.34,320.10 459.83,320.10 463.32,320.10 466.80,320.10 470.29,320.10 473.78,320.10 477.27,320.10 480.76,320.10 484.24,320.10 487.73,320.10 491.22,320.10 494.71,320.10 498.20,320.10 501.68,320.10 505.17,320.10 508.66,320.10" fill="none" stroke="#00ff00" stroke-width="1.2"/><path d="M90.10 32.41L92.43 36.44L87.77 36.44zM93.59 32.41L95.92 36.44L91.26 36.44zM97.08 32.41L99.40 36.44L94.75 36.44zM100.56 35.59L102.89 39.62L98.24 39.62zM104.05 39.02L106.38 43.05L101.72 43.05zM107.54 42.54L109.87 46.57L105.21 46.57zM111.03 46.13L113.36 50.16L108.70 50.16zM114.52 49.79L116.84 53.82L112.19 53.82zM118.00 53.51L120.33 57.55L115.68 57.55zM121.49 57.30L123.82 61.33L119.16 61.33zM124.98 61.14L127.31 65.17L122.65 65.17zM128.47 65.02L130.80 69.05L126.14 69.05zM131.96 68.95L134.28 72.98L129.63 72.98zM135.44 72.92L137.77 76.95L133.12 76.95zM138.93 76.91L141.26 80.94L136.60 80.94zM142.42 80.94L144.75 84.97L140.09 84.97zM145.91 84.99L148.24 89.02L143.58 89.02zM149.40 89.05L151.72 93.08L147.07 93.08zM152.88 93.12L155.21 97.16L150.56 97.16zM156.37 97.20L158.70 101.24L154.04 101.24zM159.86 101.29L162.19 105.32L157.53 105.32zM163.35 105.36L165.68 109.39L161.02 109.39zM166.84 109.43L169.16 113.46L164.51 113.46zM170.32 113.48L172.65 117.51L168.00 117.51zM173.81 117.51L176.14 121.54L171.48 121.54zM177.30 121.51L179.63 125.54L174.97 125.54zM180.79 125.48L183.12 129.51L178.46 129.51zM184.28 129.41L186.60 133.45L181.95 133.45zM187.76 133.31L190.09 137.34L185.44 137.34zM191.25 137.15L193.58 141.18L188.92 141.18zM194.74 140.96L197.07 144.99L192.41 144.99zM198.23 144.71L200.56 148.74L195.90 148.74zM201.72 148.45L204.04 152.48L199.39 152.48zM205.20 152.17L207.53 156.21L202.88 156.21zM208.69 155.89L211.02 159.92L206.36 159.92zM212.18 159.59L214.51 163.62L209.85 163.62zM215.67 163.28L218.00 167.32L213.34 167.32zM219.16 166.97L221.48 171.00L216.83 171.00zM222.64 170.64L224.97 174.67L220.32 174.67zM226.13 174.31L228.46 178.34L223.80 178.34zM229.62 177.97L231.95 182.00L227.29 182.00zM233.11 181.62L235.44 185.65L230.78 185.65zM236.60 185.27L238.92 189.30L234.27 189.30zM240.08 188.93L242.41 192.96L237.76 192.96zM243.57 192.59L245.90 196.62L241.24 196.62zM247.06 196.24L249.39 200.28L244.73 200.28zM250.55 199.88L252.88 203.91L248.22 203.91zM254.04 203.48L256.36 207.51L251.71 207.51zM257.52 207.04L259.85 211.07L255.20 211.07zM261.01 210.55L263.34 214.58L258.68 214.58zM264.50 214.00L266.83 218.03L262.17 218.03zM267.99 217.39L270.32 221.42L265.66 221.42zM271.48 220.74L273.80 224.77L269.15 224.77zM274.96 224.04L277.29 228.07L272.64 228.07zM278.45 227.32L280.78 231.35L276.12 231.35zM281.94 230.58L284.27 234.61L279.61 234.61zM285.43 233.82L287.76 237.85L283.10 237.85zM288.92 237.06L291.24 241.10L286.59 241.10zM292.40 240.31L294.73 244.34L290.08 244.34zM295.89 243.58L298.22 247.61L293.56 247.61zM299.38 246.87L301.71 250.91L297.05 250.91zM302.87 250.17L305.20 254.20L300.54 254.20zM306.36 253.41L308.68 257.44L304.03 257.44zM309.84 256.53L312.17 260.56L307.52 260.56zM313.33 259.55L315.66 263.58L311.00 263.58zM316.82 262.52L319.15 266.55L314.49 266.55zM320.31 265.42L322.64 269.45L317.98 269.45zM323.80 268.24L326.12 272.27L321.47 272.27zM327.28 270.96L329.61 274.99L324.96 274.99zM330.77 273.58L333.10 277.61L328.44 277.61zM334.26 276.13L336.59 280.16L331.93 280.16zM337.75 278.64L340.08 282.67L335.42 282.67zM341.24 281.11L343.56 285.14L338.91 285.14zM344.72 283.53L347.05 287.56L342.40 287.56zM348.21 285.89L350.54 289.92L345.88 289.92zM351.70 288.19L354.03 292.23L349.37 292.23zM355.19 290.43L357.52 294.46L352.86 294.46zM358.68 292.59L361.00 296.62L356.35 296.62zM362.16 294.67L364.49 298.70L359.84 298.70zM365.65 296.67L367.98 300.70L363.32 300.70zM369.14 298.55L371.47 302.58L366.81 302.58zM372.63 300.31L374.96 304.34L370.30 304.34zM376.12 301.98L378.44 306.01L373.79 306.01zM379.60 303.59L381.93 307.62L377.28 307.62zM383.09 305.22L385.42 309.25L380.76 309.25zM386.58 306.86L388.91 310.89L384.25 310.89zM390.07 308.46L392.40 312.49L387.74 312.49zM393.56 309.99L395.88 314.02L391.23 314.02zM397.04 311.40L399.37 315.44L394.72 315.44zM400.53 312.67L402.86 316.70L398.20 316.70zM404.02 313.74L406.35 317.77L401.69 317.77zM407.51 314.53L409.84 318.57L405.18 318.57zM411.00 315.59L413.32 319.62L408.67 319.62zM414.48 316.52L416.81 320.55L412.16 320.55zM417.97 317.17L420.30 321.20L415.64 321.20zM421.46 317.41L423.79 321.44L419.13 321.44zM424.95 317.41L427.28 321.44L422.62 321.44zM428.44 317.41L430.76 321.44L426.11 321.44zM431.92 317.41L434.25 321.44L429.60 321.44zM435.41 317.41L437.74 321.44L433.08 321.44zM438.90 317.41L441.23 321.44L436.57 321.44zM442.39 317.41L444.72 321.44L440.06 321.44zM445.88 317.41L448.20 321.44L443.55 321.44zM449.36 317.41L451.69 321.44L447.04 321.44zM452.85 317.41L455.18 321.44L450.52 321.44zM456.34 317.41L458.67 321.44L454.01 321.44zM459.83 317.41L462.16 321.44L457.50 321.44zM463.32 317.41L465.64 321.44L460.99 321.44zM466.80 317.41L469.13 321.44L464.48 321.44zM470.29 317.41L472.62 321.44L467.96 321.44zM473.78 317.41L476.11 321.44L471.45 321.44zM477.27 317.41L479.60 321.44L474.94 321.44zM480.76 317.41L483.08 321.44L478.43 321.44zM484.24 317.41L486.57 321.44L481.92 321.44zM487.73 317.41L490.06 321.44L485.40 321.44zM491.22 317.41L493.55 321.44L488.89 321.44zM494.71 317.41L497.04 321.44L492.38 321.44zM498.20 317.41L500.52 321.44L495.87 321.44zM501.68 317.41L504.01 321.44L499.36 321.44zM505.17 317.41L507.50 321.44L502.84 321.44zM508.66 317.41L510.99 321.44L506.33 321.44z" fill="#00ff00"/><polyline points="90.10,320.10 93.59,320.10 97.08,320.10 100.56,320.10 104.05,320.10 107.54,320.10 111.03,320.10 114.52,316.68 118.00,312.83 121.49,308.98 124.98,305.12 128.47,301.26 131.96,297.39 135.44,293.52 138.93,289.65 142.42,285.78 145.91,281.90 149.40,278.03 152.88,274.15 156.37,270.28 159.86,266.40 163.35,262.53 166.84,258.65 170.32,254.78 173.81,250.91 177.30,247.05 180.79,243.19 184.28,239.33 187.76,235.47 191.25,231.62 194.74,227.78 198.23,223.94 201.72,220.11 205.20,216.29 208.69,212.47 212.18,208.67 215.67,204.90 219.16,201.13 222.64,197.36 226.13,193.58 229.62,189.80 233.11,185.99 236.60,182.14 240.08,178.18 243.57,174.24 247.06,170.44 250.55,166.89 254.04,163.49 257.52,160.21 261.01,157.01 264.50,153.85 267.99,150.71 271.48,147.55 274.96,144.33 278.45,141.05 281.94,137.74 285.43,134.43 288.92,131.11 292.40,127.79 295.89,124.47 299.38,121.16 302.87,117.86 306.36,114.57 309.84,111.26 313.33,107.93 316.82,104.61 320.31,101.29 323.80,98.00 327.28,94.75 330.77,91.54 334.26,88.39 337.75,85.32 341.24,82.30 344.72,79.36 348.21,76.56 351.70,73.94 355.19,71.44 358.68,69.02 362.16,66.67 365.65,64.36 369.14,62.06 372.63,59.75 376.12,57.44 379.60,55.19 383.09,53.04 386.58,51.03 390.07,49.15 393.56,47.36 397.04,45.66 400.53,44.06 404.02,42.57 407.51,41.14 411.00,39.83 414.48,38.74 417.97,37.84 421.46,37.18 424.95,36.82 428.44,36.09 431.92,35.65 435.41,35.36 438.90,35.21 442.39,35.10 445.88,35.10 449.36,35.10 452.85,35.10 456.34,35.10 459.83,35.10 463.32,35.10 466.80,35.10 470.29,35.10 473.78,35.10 477.27,35.10 480.76,35.10 484.24,35.10 487.73,35.10 491.22,35.10 494.71,35.10 498.20,35.10 501.68,35.10 505.17,35.10 508.66,35.10" fill="none" stroke="#00ff00" stroke-width="1.2"/><path d="M90.10 317.41L92.43 321.44L87.77 321.44zM93.59 317.41L95.92 321.44L91.26 321.44zM97.08 317.41L99.40 321.44L94.75 321.44zM100.56 317.41L102.89 321.44L98.24 321.44zM104.05 317.41L106.38 321.44L101.72 321.44zM107.54 317.41L109.87 321.44L105.21 321.44zM111.03 317.41L113.36 321.44L108.70 321.44zM114.52 313.99L116.84 318.02L112.19 318.02zM118.00 310.15L120.33 314.18L115.68 314.18zM121.49 306.29L123.82 310.32L119.16 310.32zM124.98 302.43L127.31 306.46L122.65 306.46zM128.47 298.57L130.80 302.60L126.14 302.60zM131.96 294.70L134.28 298.73L129.63 298.73zM135.44 290.83L137.77 294.87L133.12 294.87zM138.93 286.96L141.26 290.99L136.60 290.99zM142.42 283.09L144.75 287.12L140.09 287.12zM145.91 279.22L148.24 283.25L143.58 283.25zM149.40 275.34L151.72 279.37L147.07 279.37zM152.88 271.46L155.21 275.50L150.56 275.50zM156.37 267.59L158.70 271.62L154.04 271.62zM159.86 263.71L162.19 267.74L157.53 267.74zM163.35 259.84L165.68 263.87L161.02 263.87zM166.84 255.97L169.16 260.00L164.51 260.00zM170.32 252.09L172.65 256.13L168.00 256.13zM173.81 248.23L176.14 252.26L171.48 252.26zM177.30 244.36L179.63 248.39L174.97 248.39zM180.79 240.50L183.12 244.53L178.46 244.53zM184.28 236.64L186.60 240.67L181.95 240.67zM187.76 232.79L190.09 236.82L185.44 236.82zM191.25 228.94L193.58 232.97L188.92 232.97zM194.74 225.09L197.07 229.12L192.41 229.12zM198.23 221.25L200.56 225.29L195.90 225.29zM201.72 217.42L204.04 221.45L199.39 221.45zM205.20 213.60L207.53 217.63L202.88 217.63zM208.69 209.78L211.02 213.81L206.36 213.81zM212.18 205.99L214.51 210.02L209.85 210.02zM215.67 202.21L218.00 206.24L213.34 206.24zM219.16 198.44L221.48 202.47L216.83 202.47zM222.64 194.67L224.97 198.70L220.32 198.70zM226.13 190.90L228.46 194.93L223.80 194.93zM229.62 187.11L231.95 191.14L227.29 191.14zM233.11 183.30L235.44 187.33L230.78 187.33zM236.60 179.45L238.92 183.48L234.27 183.48zM240.08 175.49L242.41 179.52L237.76 179.52zM243.57 171.55L245.90 175.58L241.24 175.58zM247.06 167.75L249.39 171.78L244.73 171.78zM250.55 164.20L252.88 168.23L248.22 168.23zM254.04 160.80L256.36 164.83L251.71 164.83zM257.52 157.52L259.85 161.55L255.20 161.55zM261.01 154.32L263.34 158.35L258.68 158.35zM264.50 151.16L266.83 155.19L262.17 155.19zM267.99 148.03L270.32 152.06L265.66 152.06zM271.48 144.86L273.80 148.89L269.15 148.89zM274.96 141.64L277.29 145.67L272.64 145.67zM278.45 138.36L280.78 142.39L276.12 142.39zM281.94 135.06L284.27 139.09L279.61 139.09zM285.43 131.74L287.76 135.77L283.10 135.77zM288.92 128.42L291.24 132.45L286.59 132.45zM292.40 125.10L294.73 129.13L290.08 129.13zM295.89 121.78L298.22 125.81L293.56 125.81zM299.38 118.47L301.71 122.50L297.05 122.50zM302.87 115.17L305.20 119.20L300.54 119.20zM306.36 111.88L308.68 115.91L304.03 115.91zM309.84 108.57L312.17 112.60L307.52 112.60zM313.33 105.24L315.66 109.27L311.00 109.27zM316.82 101.92L319.15 105.95L314.49 105.95zM320.31 98.61L322.64 102.64L317.98 102.64zM323.80 95.32L326.12 99.35L321.47 99.35zM327.28 92.06L329.61 96.09L324.96 96.09zM330.77 88.85L333.10 92.88L328.44 92.88zM334.26 85.70L336.59 89.73L331.93 89.73zM337.75 82.63L340.08 86.66L335.42 86.66zM341.24 79.61L343.56 83.64L338.91 83.64zM344.72 76.67L347.05 80.71L342.40 80.71zM348.21 73.88L350.54 77.91L345.88 77.91zM351.70 71.25L354.03 75.29L349.37 75.29zM355.19 68.75L357.52 72.78L352.86 72.78zM358.68 66.33L361.00 70.36L356.35 70.36zM362.16 63.98L364.49 68.01L359.84 68.01zM365.65 61.67L367.98 65.70L363.32 65.70zM369.14 59.37L371.47 63.40L366.81 63.40zM372.63 57.06L374.96 61.09L370.30 61.09zM376.12 54.75L378.44 58.78L373.79 58.78zM379.60 52.50L381.93 56.53L377.28 56.53zM383.09 50.35L385.42 54.38L380.76 54.38zM386.58 48.34L388.91 52.38L384.25 52.38zM390.07 46.47L392.40 50.50L387.74 50.50zM393.56 44.67L395.88 48.70L391.23 48.70zM397.04 42.97L399.37 47.00L394.72 47.00zM400.53 41.37L402.86 45.40L398.20 45.40zM404.02 39.88L406.35 43.91L401.69 43.91zM407.51 38.46L409.84 42.49L405.18 42.49zM411.00 37.14L413.32 41.18L408.67 41.18zM414.48 36.05L416.81 40.08L412.16 40.08zM417.97 35.15L420.30 39.18L415.64 39.18zM421.46 34.49L423.79 38.52L419.13 38.52zM424.95 34.13L427.28 38.16L422.62 38.16zM428.44 33.40L430.76 37.44L426.11 37.44zM431.92 32.97L434.25 37.00L429.60 37.00zM435.41 32.67L437.74 36.71L433.08 36.71zM438.90 32.53L441.23 36.56L436.57 36.56zM442.39 32.41L444.72 36.44L440.06 36.44zM445.88 32.41L448.20 36.44L443.55 36.44zM449.36 32.41L451.69 36.44L447.04 36.44zM452.85 32.41L455.18 36.44L450.52 36.44zM456.34 32.41L458.67 36.44L454.01 36.44zM459.83 32.41L462.16 36.44L457.50 36.44zM463.32 32.41L465.64 36.44L460.99 36.44zM466.80 32.41L469.13 36.44L464.48 36.44zM470.29 32.41L472.62 36.44L467.96 36.44zM473.78 32.41L476.11 36.44L471.45 36.44zM477.27 32.41L479.60 36.44L474.94 36.44zM480.76 32.41L483.08 36.44L478.43 36.44zM484.24 32.41L486.57 36.44L481.92 36.44zM487.73 32.41L490.06 36.44L485.40 36.44zM491.22 32.41L493.55 36.44L488.89 36.44zM494.71 32.41L497.04 36.44L492.38 36.44zM498.20 32.41L500.52 36.44L495.87 36.44zM501.68 32.41L504.01 36.44L499.36 36.44zM505.17 32.41L507.50 36.44L502.84 36.44zM508.66 32.41L510.99 36.44L506.33 36.44z" fill="#00ff00"/><polyline points="90.10,35.10 93.59,35.10 97.08,35.10 100.56,38.26 104.05,41.69 107.54,45.19 111.03,48.77 114.52,52.42 118.00,56.13 121.49,59.90 124.98,63.73 128.47,67.60 131.96,71.51 135.44,75.47 138.93,79.45 142.42,83.47 145.91,87.50 149.40,91.55 152.88,95.62 156.37,99.68 159.86,103.75 163.35,107.82 166.84,111.87 170.32,115.91 173.81,119.92 177.30,123.92 180.79,127.87 184.28,131.80 187.76,135.68 191.25,139.51 194.74,143.30 198.23,147.06 201.72,150.79 205.20,154.52 208.69,158.23 212.18,161.94 215.67,165.63 219.16,169.31 222.64,172.99 226.13,176.65 229.62,180.31 233.11,183.97 236.60,187.62 240.08,191.28 243.57,194.94 247.06,198.59 250.55,202.22 254.04,205.82 257.52,209.38 261.01,212.89 264.50,216.34 267.99,219.74 271.48,223.08 274.96,226.39 278.45,229.67 281.94,232.92 285.43,236.17 288.92,239.41 292.40,242.66 295.89,245.92 299.38,249.22 302.87,252.52 306.36,255.75 309.84,258.87 313.33,261.90 316.82,264.87 320.31,267.77 323.80,270.59 327.28,273.31 330.77,275.92 334.26,278.47 337.75,280.99 341.24,283.46 344.72,285.88 348.21,288.24 351.70,290.54 355.19,292.77 358.68,294.93 362.16,297.02 365.65,299.01 369.14,300.90 372.63,302.66 376.12,304.32 379.60,305.93 383.09,307.57 386.58,309.20 390.07,310.81 393.56,312.34 397.04,313.75 400.53,315.01 404.02,316.08 407.51,316.88 411.00,317.93 414.48,318.91 417.97,319.69 421.46,320.10 424.95,320.10 428.44,320.10 431.92,320.10 435.41,320.10 438.90,320.10 442.39,320.10 445.88,320.10 449.36,320.10 452.85,320.10 456.34,320.10 459.83,320.10 463.32,320.10 466.80,320.10 470.29,320.10 473.78,320.10 477.27,320.10 480.76,320.10 484.24,320.10 487.73,320.10 491.22,320.10 494.71,320.10 498.20,320.10 501.68,320.10 505.17,320.10 508.66,320.10" fill="none" stroke="#0000ff" stroke-width="1.2"/><path d="M90.10 37.79L92.43 33.76L87.77 33.76zM93.59 37.79L95.92 33.76L91.26 33.76zM97.08 37.79L99.40 33.76L94.75 33.76zM100.56 40.95L102.89 36.92L98.24 36.92zM104.05 44.37L106.38 40.34L101.72 40.34zM107.54 47.88L109.87 43.85L105.21 43.85zM111.03 51.46L113.36 47.42L108.70 47.42zM114.52 55.10L116.84 51.07L112.19 51.07zM118.00 58.82L120.33 54.79L115.68 54.79zM121.49 62.59L123.82 58.56L119.16 58.56zM124.98 66.41L127.31 62.38L122.65 62.38zM128.47 70.29L130.80 66.25L126.14 66.25zM131.96 74.20L134.28 70.17L129.63 70.17zM135.44 78.16L137.77 74.12L133.12 74.12zM138.93 82.14L141.26 78.11L136.60 78.11zM142.42 86.16L144.75 82.12L140.09 82.12zM145.91 90.19L148.24 86.16L143.58 86.16zM149.40 94.24L151.72 90.21L147.07 90.21zM152.88 98.30L155.21 94.27L150.56 94.27zM156.37 102.37L158.70 98.34L154.04 98.34zM159.86 106.44L162.19 102.41L157.53 102.41zM163.35 110.50L165.68 106.47L161.02 106.47zM166.84 114.56L169.16 110.53L164.51 110.53zM170.32 118.59L172.65 114.56L168.00 114.56zM173.81 122.61L176.14 118.58L171.48 118.58zM177.30 126.60L179.63 122.57L174.97 122.57zM180.79 130.56L183.12 126.53L178.46 126.53zM184.28 134.48L186.60 130.45L181.95 130.45zM187.76 138.36L190.09 134.33L185.44 134.33zM191.25 142.20L193.58 138.17L188.92 138.17zM194.74 145.99L197.07 141.96L192.41 141.96zM198.23 149.74L200.56 145.71L195.90 145.71zM201.72 153.48L204.04 149.45L199.39 149.45zM205.20 157.21L207.53 153.18L202.88 153.18zM208.69 160.92L211.02 156.89L206.36 156.89zM212.18 164.62L214.51 160.59L209.85 160.59zM215.67 168.32L218.00 164.29L213.34 164.29zM219.16 172.00L221.48 167.97L216.83 167.97zM222.64 175.67L224.97 171.64L220.32 171.64zM226.13 179.34L228.46 175.31L223.80 175.31zM229.62 183.00L231.95 178.97L227.29 178.97zM233.11 186.65L235.44 182.62L230.78 182.62zM236.60 190.30L238.92 186.27L234.27 186.27zM240.08 193.96L242.41 189.93L237.76 189.93zM243.57 197.63L245.90 193.59L241.24 193.59zM247.06 201.28L249.39 197.25L244.73 197.25zM250.55 204.91L252.88 200.88L248.22 200.88zM254.04 208.51L256.36 204.48L251.71 204.48zM257.52 212.07L259.85 208.04L255.20 208.04zM261.01 215.58L263.34 211.55L258.68 211.55zM264.50 219.03L266.83 215.00L262.17 215.00zM267.99 222.42L270.32 218.39L265.66 218.39zM271.48 225.77L273.80 221.74L269.15 221.74zM274.96 229.08L277.29 225.04L272.64 225.04zM278.45 232.35L280.78 228.32L276.12 228.32zM281.94 235.61L284.27 231.58L279.61 231.58zM285.43 238.86L287.76 234.82L283.10 234.82zM288.92 242.10L291.24 238.07L286.59 238.07zM292.40 245.34L294.73 241.31L290.08 241.31zM295.89 248.61L298.22 244.58L293.56 244.58zM299.38 251.91L301.71 247.88L297.05 247.88zM302.87 255.20L305.20 251.17L300.54 251.17zM306.36 258.44L308.68 254.41L304.03 254.41zM309.84 261.56L312.17 257.53L307.52 257.53zM313.33 264.58L315.66 260.55L311.00 260.55zM316.82 267.55L319.15 263.52L314.49 263.52zM320.31 270.45L322.64 266.42L317.98 266.42zM323.80 273.27L326.12 269.24L321.47 269.24zM327.28 276.00L329.61 271.97L324.96 271.97zM330.77 278.61L333.10 274.58L328.44 274.58zM334.26 281.16L336.59 277.13L331.93 277.13zM337.75 283.67L340.08 279.64L335.42 279.64zM341.24 286.14L343.56 282.11L338.91 282.11zM344.72 288.56L347.05 284.53L342.40 284.53zM348.21 290.93L350.54 286.89L345.88 286.89zM351.70 293.23L354.03 289.20L349.37 289.20zM355.19 295.46L357.52 291.43L352.86 291.43zM358.68 297.62L361.00 293.59L356.35 293.59zM362.16 299.70L364.49 295.67L359.84 295.67zM365.65 301.70L367.98 297.67L363.32 297.67zM369.14 303.59L371.47 299.55L366.81 299.55zM372.63 305.34L374.96 301.31L370.30 301.31zM376.12 307.01L378.44 302.98L373.79 302.98zM379.60 308.62L381.93 304.59L377.28 304.59zM383.09 310.25L385.42 306.22L380.76 306.22zM386.58 311.89L388.91 307.86L384.25 307.86zM390.07 313.49L392.40 309.46L387.74 309.46zM393.56 315.02L395.88 310.99L391.23 310.99zM397.04 316.44L399.37 312.41L394.72 312.41zM400.53 317.70L402.86 313.67L398.20 313.67zM404.02 318.77L406.35 314.74L401.69 314.74zM407.51 319.57L409.84 315.54L405.18 315.54zM411.00 320.62L413.32 316.59L408.67 316.59zM414.48 321.60L416.81 317.57L412.16 317.57zM417.97 322.37L420.30 318.34L415.64 318.34zM421.46 322.79L423.79 318.76L419.13 318.76zM424.95 322.79L427.28 318.76L422.62 318.76zM428.44 322.79L430.76 318.76L426.11 318.76zM431.92 322.79L434.25 318.76L429.60 318.76zM435.41 322.79L437.74 318.76L433.08 318.76zM438.90 322.79L441.23 318.76L436.57 318.76zM442.39 322.79L444.72 318.76L440.06 318.76zM445.88 322.79L448.20 318.76L443.55 318.76zM449.36 322.79L451.69 318.76L447.04 318.76zM452.85 322.79L455.18 318.76L450.52 318.76zM456.34 322.79L458.67 318.76L454.01 318.76zM459.83 322.79L462.16 318.76L457.50 318.76zM463.32 322.79L465.64 318.76L460.99 318.76zM466.80 322.79L469.13 318.76L464.48 318.76zM470.29 322.79L472.62 318.76L467.96 318.76zM473.78 322.79L476.11 318.76L471.45 318.76zM477.27 322.79L479.60 318.76L474.94 318.76zM480.76 322.79L483.08 318.76L478.43 318.76zM484.24 322.79L486.57 318.76L481.92 318.76zM487.73 322.79L490.06 318.76L485.40 318.76zM491.22 322.79L493.55 318.76L488.89 318.76zM494.71 322.79L497.04 318.76L492.38 318.76zM498.20 322.79L500.52 318.76L495.87 318.76zM501.68 322.79L504.01 318.76L499.36 318.76zM505.17 322.79L507.50 318.76L502.84 318.76zM508.66 322.79L510.99 318.76L506.33 318.76z" fill="#0000ff"/><polyline points="90.10,320.10 93.59,320.10 97.08,320.10 100.56,320.10 104.05,320.10 107.54,320.10 111.03,320.10 114.52,316.68 118.00,312.83 121.49,308.98 124.98,305.12 128.47,301.26 131.96,297.39 135.44,293.52 138.93,289.65 142.42,285.78 145.91,281.90 149.40,278.03 152.88,274.15 156.37,270.28 159.86,266.40 163.35,262.53 166.84,258.65 170.32,254.78 173.81,250.91 177.30,247.05 180.79,243.19 184.28,239.33 187.76,235.47 191.25,231.62 194.74,227.78 198.23,223.94 201.72,220.11 205.20,216.29 208.69,212.47 212.18,208.67 215.67,204.90 219.16,201.13 222.64,197.36 226.13,193.58 229.62,189.80 233.11,185.99 236.60,182.14 240.08,178.18 243.57,174.24 247.06,170.44 250.55,166.89 254.04,163.49 257.52,160.21 261.01,157.01 264.50,153.85 267.99,150.71 271.48,147.54 274.96,144.32 278.45,141.03 281.94,137.72 285.43,134.40 288.92,131.08 292.40,127.75 295.89,124.43 299.38,121.11 302.87,117.81 306.36,114.52 309.84,111.20 313.33,107.87 316.82,104.54 320.31,101.23 323.80,97.93 327.28,94.67 330.77,91.46 334.26,88.30 337.75,85.22 341.24,82.20 344.72,79.25 348.21,76.44 351.70,73.81 355.19,71.30 358.68,68.87 362.16,66.51 365.65,64.19 369.14,61.89 372.63,59.57 376.12,57.26 379.60,55.00 383.09,52.84 386.58,50.83 390.07,48.94 393.56,47.14 397.04,45.44 400.53,43.83 404.02,42.33 407.51,40.91 411.00,39.59 414.48,38.50 417.97,37.60 421.46,36.93 424.95,36.57 428.44,35.89 431.92,35.50 435.41,35.26 438.90,35.17 442.39,35.10 445.88,35.10 449.36,35.10 452.85,35.10 456.34,35.10 459.83,35.10 463.32,35.10 466.80,35.10 470.29,35.10 473.78,35.10 477.27,35.10 480.76,35.10 484.24,35.10 487.73,35.10 491.22,35.10 494.71,35.10 498.20,35.10 501.68,35.10 505.17,35.10 508.66,35.10" fill="none" stroke="#0000ff" stroke-width="1.2"/><path d="M90.10 322.79L92.43 318.76L87.77 318.76zM93.59 322.79L95.92 318.76L91.26 318.76zM97.08 322.79L99.40 318.76L94.75 318.76zM100.56 322.79L102.89 318.76L98.24 318.76zM104.05 322.79L106.38 318.76L101.72 318.76zM107.54 322.79L109.87 318.76L105.21 318.76zM111.03 322.79L113.36 318.76L108.70 318.76zM114.52 319.37L116.84 315.34L112.19 315.34zM118.00 315.52L120.33 311.49L115.68 311.49zM121.49 311.67L123.82 307.63L119.16 307.63zM124.98 307.81L127.31 303.78L122.65 303.78zM128.47 303.94L130.80 299.91L126.14 299.91zM131.96 300.08L134.28 296.05L129.63 296.05zM135.44 296.21L137.77 292.18L133.12 292.18zM138.93 292.34L141.26 288.31L136.60 288.31zM142.42 288.47L144.75 284.43L140.09 284.43zM145.91 284.59L148.24 280.56L143.58 280.56zM149.40 280.72L151.72 276.68L147.07 276.68zM152.88 276.84L155.21 272.81L150.56 272.81zM156.37 272.96L158.70 268.93L154.04 268.93zM159.86 269.09L162.19 265.06L157.53 265.06zM163.35 265.21L165.68 261.18L161.02 261.18zM166.84 261.34L169.16 257.31L164.51 257.31zM170.32 257.47L172.65 253.44L168.00 253.44zM173.81 253.60L176.14 249.57L171.48 249.57zM177.30 249.74L179.63 245.70L174.97 245.70zM180.79 245.87L183.12 241.84L178.46 241.84zM184.28 242.01L186.60 237.98L181.95 237.98zM187.76 238.16L190.09 234.13L185.44 234.13zM191.25 234.31L193.58 230.28L188.92 230.28zM194.74 230.47L197.07 226.44L192.41 226.44zM198.23 226.63L200.56 222.60L195.90 222.60zM201.72 222.80L204.04 218.77L199.39 218.77zM205.20 218.97L207.53 214.94L202.88 214.94zM208.69 215.16L211.02 211.13L206.36 211.13zM212.18 211.36L214.51 207.33L209.85 207.33zM215.67 207.58L218.00 203.55L213.34 203.55zM219.16 203.81L221.48 199.78L216.83 199.78zM222.64 200.04L224.97 196.01L220.32 196.01zM226.13 196.27L228.46 192.24L223.80 192.24zM229.62 192.49L231.95 188.45L227.29 188.45zM233.11 188.68L235.44 184.65L230.78 184.65zM236.60 184.82L238.92 180.79L234.27 180.79zM240.08 180.87L242.41 176.84L237.76 176.84zM243.57 176.92L245.90 172.89L241.24 172.89zM247.06 173.13L249.39 169.10L244.73 169.10zM250.55 169.57L252.88 165.54L248.22 165.54zM254.04 166.18L256.36 162.15L251.71 162.15zM257.52 162.90L259.85 158.86L255.20 158.86zM261.01 159.69L263.34 155.66L258.68 155.66zM264.50 156.54L266.83 152.51L262.17 152.51zM267.99 153.40L270.32 149.36L265.66 149.36zM271.48 150.23L273.80 146.20L269.15 146.20zM274.96 147.00L277.29 142.97L272.64 142.97zM278.45 143.72L280.78 139.68L276.12 139.68zM281.94 140.41L284.27 136.38L279.61 136.38zM285.43 137.09L287.76 133.06L283.10 133.06zM288.92 133.77L291.24 129.74L286.59 129.74zM292.40 130.44L294.73 126.41L290.08 126.41zM295.89 127.11L298.22 123.08L293.56 123.08zM299.38 123.80L301.71 119.77L297.05 119.77zM302.87 120.50L305.20 116.47L300.54 116.47zM306.36 117.20L308.68 113.17L304.03 113.17zM309.84 113.89L312.17 109.86L307.52 109.86zM313.33 110.56L315.66 106.53L311.00 106.53zM316.82 107.23L319.15 103.20L314.49 103.20zM320.31 103.91L322.64 99.88L317.98 99.88zM323.80 100.62L326.12 96.59L321.47 96.59zM327.28 97.36L329.61 93.33L324.96 93.33zM330.77 94.15L333.10 90.11L328.44 90.11zM334.26 90.99L336.59 86.96L331.93 86.96zM337.75 87.91L340.08 83.88L335.42 83.88zM341.24 84.89L343.56 80.85L338.91 80.85zM344.72 81.94L347.05 77.91L342.40 77.91zM348.21 79.13L350.54 75.10L345.88 75.10zM351.70 76.50L354.03 72.47L349.37 72.47zM355.19 73.99L357.52 69.95L352.86 69.95zM358.68 71.56L361.00 67.53L356.35 67.53zM362.16 69.20L364.49 65.17L359.84 65.17zM365.65 66.88L367.98 62.85L363.32 62.85zM369.14 64.58L371.47 60.55L366.81 60.55zM372.63 62.26L374.96 58.23L370.30 58.23zM376.12 59.94L378.44 55.91L373.79 55.91zM379.60 57.69L381.93 53.65L377.28 53.65zM383.09 55.53L385.42 51.50L380.76 51.50zM386.58 53.52L388.91 49.48L384.25 49.48zM390.07 51.63L392.40 47.60L387.74 47.60zM393.56 49.83L395.88 45.80L391.23 45.80zM397.04 48.12L399.37 44.09L394.72 44.09zM400.53 46.52L402.86 42.48L398.20 42.48zM404.02 45.02L406.35 40.99L401.69 40.99zM407.51 43.59L409.84 39.56L405.18 39.56zM411.00 42.28L413.32 38.25L408.67 38.25zM414.48 41.18L416.81 37.15L412.16 37.15zM417.97 40.28L420.30 36.25L415.64 36.25zM421.46 39.62L423.79 35.59L419.13 35.59zM424.95 39.26L427.28 35.22L422.62 35.22zM428.44 38.58L430.76 34.55L426.11 34.55zM431.92 38.19L434.25 34.16L429.60 34.16zM435.41 37.95L437.74 33.92L433.08 33.92zM438.90 37.86L441.23 33.83L436.57 33.83zM442.39 37.79L444.72 33.76L440.06 33.76zM445.88 37.79L448.20 33.76L443.55 33.76zM449.36 37.79L451.69 33.76L447.04 33.76zM452.85 37.79L455.18 33.76L450.52 33.76zM456.34 37.79L458.67 33.76L454.01 33.76zM459.83 37.79L462.16 33.76L457.50 33.76zM463.32 37.79L465.64 33.76L460.99 33.76zM466.80 37.79L469.13 33.76L464.48 33.76zM470.29 37.79L472.62 33.76L467.96 33.76zM473.78 37.79L476.11 33.76L471.45 33.76zM477.27 37.79L479.60 33.76L474.94 33.76zM480.76 37.79L483.08 33.76L478.43 33.76zM484.24 37.79L486.57 33.76L481.92 33.76zM487.73 37.79L490.06 33.76L485.40 33.76zM491.22 37.79L493.55 33.76L488.89 33.76zM494.71 37.79L497.04 33.76L492.38 33.76zM498.20 37.79L500.52 33.76L495.87 33.76zM501.68 37.79L504.01 33.76L499.36 33.76zM505.17 37.79L507.50 33.76L502.84 33.76zM508.66 37.79L510.99 33.76L506.33 33.76z" fill="#0000ff"/><polyline points="90.10,35.10 93.59,35.10 97.08,35.10 100.56,38.27 104.05,41.69 107.54,45.20 111.03,48.78 114.52,52.43 118.00,56.15 121.49,59.92 124.98,63.75 128.47,67.63 131.96,71.55 135.44,75.50 138.93,79.49 142.42,83.51 145.91,87.55 149.40,91.60 152.88,95.67 156.37,99.74 159.86,103.81 163.35,107.87 166.84,111.93 170.32,115.97 173.81,119.99 177.30,123.99 180.79,127.95 184.28,131.87 187.76,135.76 191.25,139.59 194.74,143.39 198.23,147.14 201.72,150.88 205.20,154.61 208.69,158.32 212.18,162.02 215.67,165.72 219.16,169.40 222.64,173.07 226.13,176.74 229.62,180.40 233.11,184.05 236.60,187.70 240.08,191.36 243.57,195.02 247.06,198.68 250.55,202.31 254.04,205.91 257.52,209.47 261.01,212.98 264.50,216.43 267.99,219.82 271.48,223.17 274.96,226.47 278.45,229.75 281.94,233.01 285.43,236.25 288.92,239.50 292.40,242.74 295.89,246.01 299.38,249.31 302.87,252.60 306.36,255.84 309.84,258.96 313.33,261.98 316.82,264.95 320.31,267.85 323.80,270.67 327.28,273.39 330.77,276.01 334.26,278.56 337.75,281.07 341.24,283.54 344.72,285.96 348.21,288.32 351.70,290.63 355.19,292.86 358.68,295.02 362.16,297.10 365.65,299.10 369.14,300.98 372.63,302.74 376.12,304.41 379.60,306.02 383.09,307.65 386.58,309.29 390.07,310.89 393.56,312.42 397.04,313.84 400.53,315.10 404.02,316.17 407.51,316.97 411.00,318.02 414.48,318.99 417.97,319.73 421.46,320.10 424.95,320.10 428.44,320.10 431.92,320.10 435.41,320.10 438.90,320.10 442.39,320.10 445.88,320.10 449.36,320.10 452.85,320.10 456.34,320.10 459.83,320.10 463.32,320.10 466.80,320.10 470.29,320.10 473.78,320.10 477.27,320.10 480.76,320.10 484.24,320.10 487.73,320.10 491.22,320.10 494.71,320.10 498.20,320.10 501.68,320.10 505.17,320.10 508.66,320.10" fill="none" stroke="#00ffff" stroke-width="1.2"/><path d="M90.10 32.05L93.15 35.10L90.10 38.15L87.05 35.10zM93.59 32.05L96.64 35.10L93.59 38.15L90.54 35.10zM97.08 32.05L100.12 35.10L97.08 38.15L94.03 35.10zM100.56 35.22L103.61 38.27L100.56 41.31L97.52 38.27zM104.05 38.64L107.10 41.69L104.05 44.74L101.00 41.69zM107.54 42.15L110.59 45.20L107.54 48.25L104.49 45.20zM111.03 45.73L114.08 48.78L111.03 51.83L107.98 48.78zM114.52 49.38L117.56 52.43L114.52 55.48L111.47 52.43zM118.00 53.10L121.05 56.15L118.00 59.19L114.96 56.15zM121.49 56.87L124.54 59.92L121.49 62.97L118.44 59.92zM124.98 60.70L128.03 63.75L124.98 66.80L121.93 63.75zM128.47 64.58L131.52 67.63L128.47 70.67L125.42 67.63zM131.96 68.50L135.00 71.55L131.96 74.59L128.91 71.55zM135.44 72.45L138.49 75.50L135.44 78.55L132.40 75.50zM138.93 76.44L141.98 79.49L138.93 82.54L135.88 79.49zM142.42 80.46L145.47 83.51L142.42 86.55L139.37 83.51zM145.91 84.50L148.96 87.55L145.91 90.59L142.86 87.55zM149.40 88.55L152.44 91.60L149.40 94.65L146.35 91.60zM152.88 92.62L155.93 95.67L152.88 98.71L149.84 95.67zM156.37 96.69L159.42 99.74L156.37 102.78L153.32 99.74zM159.86 100.76L162.91 103.81L159.86 106.86L156.81 103.81zM163.35 104.83L166.40 107.87L163.35 110.92L160.30 107.87zM166.84 108.88L169.88 111.93L166.84 114.98L163.79 111.93zM170.32 112.92L173.37 115.97L170.32 119.02L167.28 115.97zM173.81 116.94L176.86 119.99L173.81 123.04L170.76 119.99zM177.30 120.94L180.35 123.99L177.30 127.03L174.25 123.99zM180.79 124.90L183.84 127.95L180.79 131.00L177.74 127.95zM184.28 128.83L187.32 131.87L184.28 134.92L181.23 131.87zM187.76 132.71L190.81 135.76L187.76 138.80L184.72 135.76zM191.25 136.55L194.30 139.59L191.25 142.64L188.20 139.59zM194.74 140.34L197.79 143.39L194.74 146.44L191.69 143.39zM198.23 144.09L201.28 147.14L198.23 150.19L195.18 147.14zM201.72 147.83L204.76 150.88L201.72 153.93L198.67 150.88zM205.20 151.56L208.25 154.61L205.20 157.65L202.16 154.61zM208.69 155.27L211.74 158.32L208.69 161.37L205.64 158.32zM212.18 158.98L215.23 162.02L212.18 165.07L209.13 162.02zM215.67 162.67L218.72 165.72L215.67 168.76L212.62 165.72zM219.16 166.35L222.20 169.40L219.16 172.45L216.11 169.40zM222.64 170.03L225.69 173.07L222.64 176.12L219.60 173.07zM226.13 173.69L229.18 176.74L226.13 179.79L223.08 176.74zM229.62 177.35L232.67 180.40L229.62 183.45L226.57 180.40zM233.11 181.00L236.16 184.05L233.11 187.10L230.06 184.05zM236.60 184.66L239.64 187.70L236.60 190.75L233.55 187.70zM240.08 188.32L243.13 191.36L240.08 194.41L237.04 191.36zM243.57 191.98L246.62 195.02L243.57 198.07L240.52 195.02zM247.06 195.63L250.11 198.68L247.06 201.72L244.01 198.68zM250.55 199.26L253.60 202.31L250.55 205.36L247.50 202.31zM254.04 202.86L257.08 205.91L254.04 208.96L250.99 205.91zM257.52 206.42L260.57 209.47L257.52 212.52L254.48 209.47zM261.01 209.93L264.06 212.98L261.01 216.03L257.96 212.98zM264.50 213.38L267.55 216.43L264.50 219.48L261.45 216.43zM267.99 216.77L271.04 219.82L267.99 222.87L264.94 219.82zM271.48 220.12L274.52 223.17L271.48 226.21L268.43 223.17zM274.96 223.43L278.01 226.47L274.96 229.52L271.92 226.47zM278.45 226.70L281.50 229.75L278.45 232.80L275.40 229.75zM281.94 229.96L284.99 233.01L281.94 236.06L278.89 233.01zM285.43 233.21L288.48 236.25L285.43 239.30L282.38 236.25zM288.92 236.45L291.96 239.50L288.92 242.54L285.87 239.50zM292.40 239.69L295.45 242.74L292.40 245.79L289.36 242.74zM295.89 242.96L298.94 246.01L295.89 249.05L292.84 246.01zM299.38 246.26L302.43 249.31L299.38 252.35L296.33 249.31zM302.87 249.55L305.92 252.60L302.87 255.65L299.82 252.60zM306.36 252.79L309.40 255.84L306.36 258.88L303.31 255.84zM309.84 255.91L312.89 258.96L309.84 262.01L306.80 258.96zM313.33 258.93L316.38 261.98L313.33 265.03L310.28 261.98zM316.82 261.90L319.87 264.95L316.82 268.00L313.77 264.95zM320.31 264.81L323.36 267.85L320.31 270.90L317.26 267.85zM323.80 267.62L326.84 270.67L323.80 273.72L320.75 270.67zM327.28 270.35L330.33 273.39L327.28 276.44L324.24 273.39zM330.77 272.96L333.82 276.01L330.77 279.05L327.72 276.01zM334.26 275.51L337.31 278.56L334.26 281.61L331.21 278.56zM337.75 278.02L340.80 281.07L337.75 284.12L334.70 281.07zM341.24 280.49L344.28 283.54L341.24 286.59L338.19 283.54zM344.72 282.91L347.77 285.96L344.72 289.01L341.68 285.96zM348.21 285.28L351.26 288.32L348.21 291.37L345.16 288.32zM351.70 287.58L354.75 290.63L351.70 293.67L348.65 290.63zM355.19 289.81L358.24 292.86L355.19 295.91L352.14 292.86zM358.68 291.97L361.72 295.02L358.68 298.07L355.63 295.02zM362.16 294.05L365.21 297.10L362.16 300.15L359.12 297.10zM365.65 296.05L368.70 299.10L365.65 302.14L362.60 299.10zM369.14 297.94L372.19 300.98L369.14 304.03L366.09 300.98zM372.63 299.69L375.68 302.74L372.63 305.79L369.58 302.74zM376.12 301.36L379.16 304.41L376.12 307.45L373.07 304.41zM379.60 302.97L382.65 306.02L379.60 309.07L376.56 306.02zM383.09 304.60L386.14 307.65L383.09 310.70L380.04 307.65zM386.58 306.24L389.63 309.29L386.58 312.34L383.53 309.29zM390.07 307.84L393.12 310.89L390.07 313.94L387.02 310.89zM393.56 309.37L396.60 312.42L393.56 315.47L390.51 312.42zM397.04 310.79L400.09 313.84L397.04 316.88L394.00 313.84zM400.53 312.05L403.58 315.10L400.53 318.14L397.48 315.10zM404.02 313.12L407.07 316.17L404.02 319.21L400.97 316.17zM407.51 313.92L410.56 316.97L407.51 320.01L404.46 316.97zM411.00 314.97L414.04 318.02L411.00 321.07L407.95 318.02zM414.48 315.94L417.53 318.99L414.48 322.04L411.44 318.99zM417.97 316.68L421.02 319.73L417.97 322.78L414.92 319.73zM421.46 317.05L424.51 320.10L421.46 323.15L418.41 320.10zM424.95 317.05L428.00 320.10L424.95 323.15L421.90 320.10zM428.44 317.05L431.48 320.10L428.44 323.15L425.39 320.10zM431.92 317.05L434.97 320.10L431.92 323.15L428.88 320.10zM435.41 317.05L438.46 320.10L435.41 323.15L432.36 320.10zM438.90 317.05L441.95 320.10L438.90 323.15L435.85 320.10zM442.39 317.05L445.44 320.10L442.39 323.15L439.34 320.10zM445.88 317.05L448.92 320.10L445.88 323.15L442.83 320.10zM449.36 317.05L452.41 320.10L449.36 323.15L446.32 320.10zM452.85 317.05L455.90 320.10L452.85 323.15L449.80 320.10zM456.34 317.05L459.39 320.10L456.34 323.15L453.29 320.10zM459.83 317.05L462.88 320.10L459.83 323.15L456.78 320.10zM463.32 317.05L466.36 320.10L463.32 323.15L460.27 320.10zM466.80 317.05L469.85 320.10L466.80 323.15L463.76 320.10zM470.29 317.05L473.34 320.10L470.29 323.15L467.24 320.10zM473.78 317.05L476.83 320.10L473.78 323.15L470.73 320.10zM477.27 317.05L480.32 320.10L477.27 323.15L474.22 320.10zM480.76 317.05L483.80 320.10L480.76 323.15L477.71 320.10zM484.24 317.05L487.29 320.10L484.24 323.15L481.20 320.10zM487.73 317.05L490.78 320.10L487.73 323.15L484.68 320.10zM491.22 317.05L494.27 320.10L491.22 323.15L488.17 320.10zM494.71 317.05L497.76 320.10L494.71 323.15L491.66 320.10zM498.20 317.05L501.24 320.10L498.20 323.15L495.15 320.10zM501.68 317.05L504.73 320.10L501.68 323.15L498.64 320.10zM505.17 317.05L508.22 320.10L505.17 323.15L502.12 320.10zM508.66 317.05L511.71 320.10L508.66 323.15L505.61 320.10z" fill="#00ffff"/><polyline points="90.10,320.10 93.59,320.10 97.08,320.10 100.56,320.10 104.05,320.10 107.54,320.10 111.03,320.10 114.52,316.68 118.00,312.83 121.49,308.98 124.98,305.12 128.47,301.26 131.96,297.39 135.44,293.52 138.93,289.65 142.42,285.78 145.91,281.90 149.40,278.03 152.88,274.15 156.37,270.28 159.86,266.40 163.35,262.53 166.84,258.65 170.32,254.78 173.81,250.91 177.30,247.05 180.79,243.19 184.28,239.33 187.76,235.47 191.25,231.62 194.74,227.78 198.23,223.94 201.72,220.11 205.20,216.29 208.69,212.47 212.18,208.67 215.67,204.90 219.16,201.13 222.64,197.36 226.13,193.58 229.62,189.80 233.11,185.99 236.60,182.14 240.08,178.18 243.57,174.24 247.06,170.44 250.55,166.89 254.04,163.49 257.52,160.21 261.01,157.01 264.50,153.85 267.99,150.70 271.48,147.53 274.96,144.30 278.45,141.01 281.94,137.70 285.43,134.38 288.92,131.05 292.40,127.72 295.89,124.39 299.38,121.07 302.87,117.77 306.36,114.47 309.84,111.14 313.33,107.81 316.82,104.48 320.31,101.16 323.80,97.86 327.28,94.60 330.77,91.38 334.26,88.22 337.75,85.13 341.24,82.09 344.72,79.14 348.21,76.33 351.70,73.68 355.19,71.16 358.68,68.73 362.16,66.36 365.65,64.03 369.14,61.72 372.63,59.39 376.12,57.07 379.60,54.81 383.09,52.64 386.58,50.63 390.07,48.74 393.56,46.93 397.04,45.21 400.53,43.60 404.02,42.10 407.51,40.67 411.00,39.35 414.48,38.25 417.97,37.35 421.46,36.69 424.95,36.32 428.44,35.69 431.92,35.35 435.41,35.17 438.90,35.13 442.39,35.10 445.88,35.10 449.36,35.10 452.85,35.10 456.34,35.10 459.83,35.10 463.32,35.10 466.80,35.10 470.29,35.10 473.78,35.10 477.27,35.10 480.76,35.10 484.24,35.10 487.73,35.10 491.22,35.10 494.71,35.10 498.20,35.10 501.68,35.10 505.17,35.10 508.66,35.10" fill="none" stroke="#00ffff" stroke-width="1.2"/><path d="M90.10 317.05L93.15 320.10L90.10 323.15L87.05 320.10zM93.59 317.05L96.64 320.10L93.59 323.15L90.54 320.10zM97.08 317.05L100.12 320.10L97.08 323.15L94.03 320.10zM100.56 317.05L103.61 320.10L100.56 323.15L97.52 320.10zM104.05 317.05L107.10 320.10L104.05 323.15L101.00 320.10zM107.54 317.05L110.59 320.10L107.54 323.15L104.49 320.10zM111.03 317.05L114.08 320.10L111.03 323.15L107.98 320.10zM114.52 313.63L117.56 316.68L114.52 319.73L111.47 316.68zM118.00 309.79L121.05 312.83L118.00 315.88L114.96 312.83zM121.49 305.93L124.54 308.98L121.49 312.03L118.44 308.98zM124.98 302.07L128.03 305.12L124.98 308.17L121.93 305.12zM128.47 298.21L131.52 301.26L128.47 304.30L125.42 301.26zM131.96 294.34L135.00 297.39L131.96 300.44L128.91 297.39zM135.44 290.47L138.49 293.52L135.44 296.57L132.40 293.52zM138.93 286.60L141.98 289.65L138.93 292.70L135.88 289.65zM142.42 282.73L145.47 285.78L142.42 288.83L139.37 285.78zM145.91 278.86L148.96 281.90L145.91 284.95L142.86 281.90zM149.40 274.98L152.44 278.03L149.40 281.08L146.35 278.03zM152.88 271.10L155.93 274.15L152.88 277.20L149.84 274.15zM156.37 267.23L159.42 270.28L156.37 273.32L153.32 270.28zM159.86 263.35L162.91 266.40L159.86 269.45L156.81 266.40zM163.35 259.48L166.40 262.53L163.35 265.57L160.30 262.53zM166.84 255.61L169.88 258.65L166.84 261.70L163.79 258.65zM170.32 251.73L173.37 254.78L170.32 257.83L167.28 254.78zM173.81 247.87L176.86 250.91L173.81 253.96L170.76 250.91zM177.30 244.00L180.35 247.05L177.30 250.10L174.25 247.05zM180.79 240.14L183.84 243.19L180.79 246.23L177.74 243.19zM184.28 236.28L187.32 239.33L184.28 242.37L181.23 239.33zM187.76 232.43L190.81 235.47L187.76 238.52L184.72 235.47zM191.25 228.58L194.30 231.62L191.25 234.67L188.20 231.62zM194.74 224.73L197.79 227.78L194.74 230.83L191.69 227.78zM198.23 220.89L201.28 223.94L198.23 226.99L195.18 223.94zM201.72 217.06L204.76 220.11L201.72 223.16L198.67 220.11zM205.20 213.24L208.25 216.29L205.20 219.33L202.16 216.29zM208.69 209.42L211.74 212.47L208.69 215.52L205.64 212.47zM212.18 205.63L215.23 208.67L212.18 211.72L209.13 208.67zM215.67 201.85L218.72 204.90L215.67 207.94L212.62 204.90zM219.16 198.08L222.20 201.13L219.16 204.17L216.11 201.13zM222.64 194.31L225.69 197.36L222.64 200.40L219.60 197.36zM226.13 190.54L229.18 193.58L226.13 196.63L223.08 193.58zM229.62 186.75L232.67 189.80L229.62 192.85L226.57 189.80zM233.11 182.94L236.16 185.99L233.11 189.04L230.06 185.99zM236.60 179.09L239.64 182.14L236.60 185.18L233.55 182.14zM240.08 175.13L243.13 178.18L240.08 181.23L237.04 178.18zM243.57 171.19L246.62 174.24L243.57 177.28L240.52 174.24zM247.06 167.39L250.11 170.44L247.06 173.49L244.01 170.44zM250.55 163.84L253.60 166.89L250.55 169.93L247.50 166.89zM254.04 160.44L257.08 163.49L254.04 166.54L250.99 163.49zM257.52 157.16L260.57 160.21L257.52 163.26L254.48 160.21zM261.01 153.96L264.06 157.01L261.01 160.05L257.96 157.01zM264.50 150.80L267.55 153.85L264.50 156.90L261.45 153.85zM267.99 147.66L271.04 150.70L267.99 153.75L264.94 150.70zM271.48 144.49L274.52 147.53L271.48 150.58L268.43 147.53zM274.96 141.25L278.01 144.30L274.96 147.35L271.92 144.30zM278.45 137.96L281.50 141.01L278.45 144.06L275.40 141.01zM281.94 134.65L284.99 137.70L281.94 140.75L278.89 137.70zM285.43 131.33L288.48 134.38L285.43 137.43L282.38 134.38zM288.92 128.00L291.96 131.05L288.92 134.10L285.87 131.05zM292.40 124.67L295.45 127.72L292.40 130.76L289.36 127.72zM295.89 121.34L298.94 124.39L295.89 127.44L292.84 124.39zM299.38 118.02L302.43 121.07L299.38 124.12L296.33 121.07zM302.87 114.72L305.92 117.77L302.87 120.81L299.82 117.77zM306.36 111.42L309.40 114.47L306.36 117.51L303.31 114.47zM309.84 108.10L312.89 111.14L309.84 114.19L306.80 111.14zM313.33 104.76L316.38 107.81L313.33 110.86L310.28 107.81zM316.82 101.43L319.87 104.48L316.82 107.53L313.77 104.48zM320.31 98.11L323.36 101.16L320.31 104.20L317.26 101.16zM323.80 94.81L326.84 97.86L323.80 100.91L320.75 97.86zM327.28 91.55L330.33 94.60L327.28 97.64L324.24 94.60zM330.77 88.33L333.82 91.38L330.77 94.42L327.72 91.38zM334.26 85.17L337.31 88.22L334.26 91.26L331.21 88.22zM337.75 82.08L340.80 85.13L337.75 88.17L334.70 85.13zM341.24 79.05L344.28 82.09L341.24 85.14L338.19 82.09zM344.72 76.09L347.77 79.14L344.72 82.19L341.68 79.14zM348.21 73.28L351.26 76.33L348.21 79.37L345.16 76.33zM351.70 70.64L354.75 73.68L351.70 76.73L348.65 73.68zM355.19 68.11L358.24 71.16L355.19 74.21L352.14 71.16zM358.68 65.68L361.72 68.73L358.68 71.78L355.63 68.73zM362.16 63.31L365.21 66.36L362.16 69.41L359.12 66.36zM365.65 60.98L368.70 64.03L365.65 67.08L362.60 64.03zM369.14 58.67L372.19 61.72L369.14 64.77L366.09 61.72zM372.63 56.34L375.68 59.39L372.63 62.44L369.58 59.39zM376.12 54.03L379.16 57.07L376.12 60.12L373.07 57.07zM379.60 51.76L382.65 54.81L379.60 57.86L376.56 54.81zM383.09 49.60L386.14 52.64L383.09 55.69L380.04 52.64zM386.58 47.58L389.63 50.63L386.58 53.67L383.53 50.63zM390.07 45.69L393.12 48.74L390.07 51.78L387.02 48.74zM393.56 43.88L396.60 46.93L393.56 49.98L390.51 46.93zM397.04 42.17L400.09 45.21L397.04 48.26L394.00 45.21zM400.53 40.55L403.58 43.60L400.53 46.65L397.48 43.60zM404.02 39.05L407.07 42.10L404.02 45.14L400.97 42.10zM407.51 37.62L410.56 40.67L407.51 43.72L404.46 40.67zM411.00 36.31L414.04 39.35L411.00 42.40L407.95 39.35zM414.48 35.21L417.53 38.25L414.48 41.30L411.44 38.25zM417.97 34.31L421.02 37.35L417.97 40.40L414.92 37.35zM421.46 33.64L424.51 36.69L421.46 39.74L418.41 36.69zM424.95 33.27L428.00 36.32L424.95 39.37L421.90 36.32zM428.44 32.64L431.48 35.69L428.44 38.74L425.39 35.69zM431.92 32.30L434.97 35.35L431.92 38.39L428.88 35.35zM435.41 32.12L438.46 35.17L435.41 38.21L432.36 35.17zM438.90 32.08L441.95 35.13L438.90 38.18L435.85 35.13zM442.39 32.05L445.44 35.10L442.39 38.15L439.34 35.10zM445.88 32.05L448.92 35.10L445.88 38.15L442.83 35.10zM449.36 32.05L452.41 35.10L449.36 38.15L446.32 35.10zM452.85 32.05L455.90 35.10L452.85 38.15L449.80 35.10zM456.34 32.05L459.39 35.10L456.34 38.15L453.29 35.10zM459.83 32.05L462.88 35.10L459.83 38.15L456.78 35.10zM463.32 32.05L466.36 35.10L463.32 38.15L460.27 35.10zM466.80 32.05L469.85 35.10L466.80 38.15L463.76 35.10zM470.29 32.05L473.34 35.10L470.29 38.15L467.24 35.10zM473.78 32.05L476.83 35.10L473.78 38.15L470.73 35.10zM477.27 32.05L480.32 35.10L477.27 38.15L474.22 35.10zM480.76 32.05L483.80 35.10L480.76 38.15L477.71 35.10zM484.24 32.05L487.29 35.10L484.24 38.15L481.20 35.10zM487.73 32.05L490.78 35.10L487.73 38.15L484.68 35.10zM491.22 32.05L494.27 35.10L491.22 38.15L488.17 35.10zM494.71 32.05L497.76 35.10L494.71 38.15L491.66 35.10zM498.20 32.05L501.24 35.10L498.20 38.15L495.15 35.10zM501.68 32.05L504.73 35.10L501.68 38.15L498.64 35.10zM505.17 32.05L508.22 35.10L505.17 38.15L502.12 35.10zM508.66 32.05L511.71 35.10L508.66 38.15L505.61 35.10z" fill="#00ffff"/><polyline points="90.10,35.10 93.59,35.10 97.08,35.10 100.56,38.24 104.05,41.63 107.54,45.11 111.03,48.66 114.52,52.28 118.00,55.96 121.49,59.71 124.98,63.51 128.47,67.35 131.96,71.24 135.44,75.17 138.93,79.12 142.42,83.11 145.91,87.12 149.40,91.14 152.88,95.18 156.37,99.22 159.86,103.26 163.35,107.29 166.84,111.32 170.32,115.33 173.81,119.32 177.30,123.28 180.79,127.21 184.28,131.11 187.76,134.96 191.25,138.77 194.74,142.53 198.23,146.29 201.72,150.03 205.20,153.75 208.69,157.46 212.18,161.17 215.67,164.86 219.16,168.54 222.64,172.22 226.13,175.88 229.62,179.54 233.11,183.20 236.60,186.85 240.08,190.51 243.57,194.17 247.06,197.82 250.55,201.45 254.04,205.05 257.52,208.62 261.01,212.12 264.50,215.57 267.99,218.97 271.48,222.31 274.96,225.62 278.45,228.90 281.94,232.15 285.43,235.40 288.92,238.64 292.40,241.89 295.89,245.15 299.38,248.45 302.87,251.75 306.36,254.98 309.84,258.10 313.33,261.13 316.82,264.10 320.31,267.00 323.80,269.82 327.28,272.54 330.77,275.15 334.26,277.70 337.75,280.22 341.24,282.69 344.72,285.11 348.21,287.47 351.70,289.77 355.19,292.00 358.68,294.16 362.16,296.25 365.65,298.24 369.14,300.13 372.63,301.89 376.12,303.55 379.60,305.16 383.09,306.80 386.58,308.43 390.07,310.04 393.56,311.57 397.04,312.98 400.53,314.24 404.02,315.31 407.51,316.11 411.00,317.16 414.48,318.25 417.97,319.30 421.46,320.10 424.95,320.10 428.44,320.10 431.92,320.10 435.41,320.10 438.90,320.10 442.39,320.10 445.88,320.10 449.36,320.10 452.85,320.10 456.34,320.10 459.83,320.10 463.32,320.10 466.80,320.10 470.29,320.10 473.78,320.10 477.27,320.10 480.76,320.10 484.24,320.10 487.73,320.10 491.22,320.10 494.71,320.10 498.20,320.10 501.68,320.10 505.17,320.10 508.66,320.10" fill="none" stroke="#ff00ff" stroke-width="2.2"/><path d="M86.79 35.10L91.76 32.23L91.76 37.97zM90.28 35.10L95.24 32.23L95.24 37.97zM93.76 35.10L98.73 32.23L98.73 37.97zM97.25 38.24L102.22 35.37L102.22 41.10zM100.74 41.63L105.71 38.76L105.71 44.50zM104.23 45.11L109.20 42.24L109.20 47.98zM107.72 48.66L112.68 45.79L112.68 51.53zM111.20 52.28L116.17 49.41L116.17 55.15zM114.69 55.96L119.66 53.10L119.66 58.83zM118.18 59.71L123.15 56.84L123.15 62.58zM121.67 63.51L126.64 60.64L126.64 66.37zM125.16 67.35L130.12 64.48L130.12 70.22zM128.64 71.24L133.61 68.37L133.61 74.11zM132.13 75.17L137.10 72.30L137.10 78.03zM135.62 79.12L140.59 76.26L140.59 81.99zM139.11 83.11L144.08 80.24L144.08 85.98zM142.60 87.12L147.56 84.25L147.56 89.99zM146.08 91.14L151.05 88.27L151.05 94.01zM149.57 95.18L154.54 92.31L154.54 98.05zM153.06 99.22L158.03 96.35L158.03 102.09zM156.55 103.26L161.52 100.39L161.52 106.13zM160.04 107.29L165.00 104.43L165.00 110.16zM163.52 111.32L168.49 108.45L168.49 114.19zM167.01 115.33L171.98 112.46L171.98 118.20zM170.50 119.32L175.47 116.45L175.47 122.19zM173.99 123.28L178.96 120.41L178.96 126.15zM177.48 127.21L182.44 124.35L182.44 130.08zM180.96 131.11L185.93 128.24L185.93 133.98zM184.45 134.96L189.42 132.09L189.42 137.83zM187.94 138.77L192.91 135.90L192.91 141.64zM191.43 142.53L196.40 139.67L196.40 145.40zM194.92 146.29L199.88 143.42L199.88 149.16zM198.40 150.03L203.37 147.16L203.37 152.89zM201.89 153.75L206.86 150.88L206.86 156.62zM205.38 157.46L210.35 154.60L210.35 160.33zM208.87 161.17L213.84 158.30L213.84 164.04zM212.36 164.86L217.32 161.99L217.32 167.73zM215.84 168.54L220.81 165.67L220.81 171.41zM219.33 172.22L224.30 169.35L224.30 175.09zM222.82 175.88L227.79 173.02L227.79 178.75zM226.31 179.54L231.28 176.68L231.28 182.41zM229.80 183.20L234.76 180.33L234.76 186.07zM233.28 186.85L238.25 183.98L238.25 189.72zM236.77 190.51L241.74 187.64L241.74 193.38zM240.26 194.17L245.23 191.30L245.23 197.04zM243.75 197.82L248.72 194.95L248.72 200.69zM247.24 201.45L252.20 198.58L252.20 204.32zM250.72 205.05L255.69 202.19L255.69 207.92zM254.21 208.62L259.18 205.75L259.18 211.48zM257.70 212.12L262.67 209.26L262.67 214.99zM261.19 215.57L266.16 212.70L266.16 218.44zM264.68 218.97L269.64 216.10L269.64 221.83zM268.16 222.31L273.13 219.44L273.13 225.18zM271.65 225.62L276.62 222.75L276.62 228.49zM275.14 228.90L280.11 226.03L280.11 231.77zM278.63 232.15L283.60 229.29L283.60 235.02zM282.12 235.40L287.08 232.53L287.08 238.27zM285.60 238.64L290.57 235.77L290.57 241.51zM289.09 241.89L294.06 239.02L294.06 244.76zM292.58 245.15L297.55 242.28L297.55 248.02zM296.07 248.45L301.04 245.58L301.04 251.32zM299.56 251.75L304.52 248.88L304.52 254.61zM303.04 254.98L308.01 252.11L308.01 257.85zM306.53 258.10L311.50 255.24L311.50 260.97zM310.02 261.13L314.99 258.26L314.99 263.99zM313.51 264.10L318.48 261.23L318.48 266.96zM317.00 267.00L321.96 264.13L321.96 269.87zM320.48 269.82L325.45 266.95L325.45 272.69zM323.97 272.54L328.94 269.67L328.94 275.41zM327.46 275.15L332.43 272.28L332.43 278.02zM330.95 277.70L335.92 274.83L335.92 280.57zM334.44 280.22L339.40 277.35L339.40 283.09zM337.92 282.69L342.89 279.82L342.89 285.55zM341.41 285.11L346.38 282.24L346.38 287.97zM344.90 287.47L349.87 284.60L349.87 290.34zM348.39 289.77L353.36 286.90L353.36 292.64zM351.88 292.00L356.84 289.14L356.84 294.87zM355.36 294.16L360.33 291.30L360.33 297.03zM358.85 296.25L363.82 293.38L363.82 299.11zM362.34 298.24L367.31 295.37L367.31 301.11zM365.83 300.13L370.80 297.26L370.80 303.00zM369.32 301.89L374.28 299.02L374.28 304.76zM372.80 303.55L377.77 300.68L377.77 306.42zM376.29 305.16L381.26 302.29L381.26 308.03zM379.78 306.80L384.75 303.93L384.75 309.66zM383.27 308.43L388.24 305.57L388.24 311.30zM386.76 310.04L391.72 307.17L391.72 312.91zM390.24 311.57L395.21 308.70L395.21 314.43zM393.73 312.98L398.70 310.11L398.70 315.85zM397.22 314.24L402.19 311.37L402.19 317.11zM400.71 315.31L405.68 312.44L405.68 318.18zM404.20 316.11L409.16 313.24L409.16 318.98zM407.68 317.16L412.65 314.30L412.65 320.03zM411.17 318.25L416.14 315.38L416.14 321.12zM414.66 319.30L419.63 316.43L419.63 322.17zM418.15 320.10L423.12 317.23L423.12 322.97zM421.64 320.10L426.60 317.23L426.60 322.97zM425.12 320.10L430.09 317.23L430.09 322.97zM428.61 320.10L433.58 317.23L433.58 322.97zM432.10 320.10L437.07 317.23L437.07 322.97zM435.59 320.10L440.56 317.23L440.56 322.97zM439.08 320.10L444.04 317.23L444.04 322.97zM442.56 320.10L447.53 317.23L447.53 322.97zM446.05 320.10L451.02 317.23L451.02 322.97zM449.54 320.10L454.51 317.23L454.51 322.97zM453.03 320.10L458.00 317.23L458.00 322.97zM456.52 320.10L461.48 317.23L461.48 322.97zM460.00 320.10L464.97 317.23L464.97 322.97zM463.49 320.10L468.46 317.23L468.46 322.97zM466.98 320.10L471.95 317.23L471.95 322.97zM470.47 320.10L475.44 317.23L475.44 322.97zM473.96 320.10L478.92 317.23L478.92 322.97zM477.44 320.10L482.41 317.23L482.41 322.97zM480.93 320.10L485.90 317.23L485.90 322.97zM484.42 320.10L489.39 317.23L489.39 322.97zM487.91 320.10L492.88 317.23L492.88 322.97zM491.40 320.10L496.36 317.23L496.36 322.97zM494.88 320.10L499.85 317.23L499.85 322.97zM498.37 320.10L503.34 317.23L503.34 322.97zM501.86 320.10L506.83 317.23L506.83 322.97zM505.35 320.10L510.32 317.23L510.32 322.97z" fill="#ff00ff"/><polyline points="90.10,320.10 93.59,320.10 97.08,320.10 100.56,320.10 104.05,320.10 107.54,320.10 111.03,320.10 114.52,316.68 118.00,312.83 121.49,308.98 124.98,305.12 128.47,301.26 131.96,297.39 135.44,293.52 138.93,289.65 142.42,285.78 145.91,281.90 149.40,278.03 152.88,274.15 156.37,270.28 159.86,266.40 163.35,262.53 166.84,258.65 170.32,254.78 173.81,250.91 177.30,247.05 180.79,243.19 184.28,239.33 187.76,235.47 191.25,231.62 194.74,227.78 198.23,223.94 201.72,220.11 205.20,216.29 208.69,212.47 212.18,208.67 215.67,204.90 219.16,201.13 222.64,197.36 226.13,193.58 229.62,189.80 233.11,185.99 236.60,182.14 240.08,178.18 243.57,174.24 247.06,170.44 250.55,166.89 254.04,163.49 257.52,160.21 261.01,157.01 264.50,153.85 267.99,150.70 271.48,147.53 274.96,144.29 278.45,141.00 281.94,137.69 285.43,134.36 288.92,131.03 292.40,127.69 295.89,124.36 299.38,121.04 302.87,117.73 306.36,114.43 309.84,111.11 313.33,107.77 316.82,104.44 320.31,101.11 323.80,97.81 327.28,94.54 330.77,91.32 334.26,88.16 337.75,85.06 341.24,82.03 344.72,79.07 348.21,76.25 351.70,73.60 355.19,71.07 358.68,68.63 362.16,66.26 365.65,63.92 369.14,61.61 372.63,59.27 376.12,56.95 379.60,54.68 383.09,52.51 386.58,50.49 390.07,48.60 393.56,46.78 397.04,45.06 400.53,43.45 404.02,41.94 407.51,40.51 411.00,39.19 414.48,38.09 417.97,37.19 421.46,36.53 424.95,36.15 428.44,35.56 431.92,35.24 435.41,35.10 438.90,35.10 442.39,35.10 445.88,35.10 449.36,35.10 452.85,35.10 456.34,35.10 459.83,35.10 463.32,35.10 466.80,35.10 470.29,35.10 473.78,35.10 477.27,35.10 480.76,35.10 484.24,35.10 487.73,35.10 491.22,35.10 494.71,35.10 498.20,35.10 501.68,35.10 505.17,35.10 508.66,35.10" fill="none" stroke="#ff00ff" stroke-width="2.2"/><path d="M86.79 320.10L91.76 317.23L91.76 322.97zM90.28 320.10L95.24 317.23L95.24 322.97zM93.76 320.10L98.73 317.23L98.73 322.97zM97.25 320.10L102.22 317.23L102.22 322.97zM100.74 320.10L105.71 317.23L105.71 322.97zM104.23 320.10L109.20 317.23L109.20 322.97zM107.72 320.10L112.68 317.23L112.68 322.97zM111.20 316.68L116.17 313.81L116.17 319.55zM114.69 312.83L119.66 309.96L119.66 315.70zM118.18 308.98L123.15 306.11L123.15 311.85zM121.67 305.12L126.64 302.25L126.64 307.99zM125.16 301.26L130.12 298.39L130.12 304.13zM128.64 297.39L133.61 294.52L133.61 300.26zM132.13 293.52L137.10 290.65L137.10 296.39zM135.62 289.65L140.59 286.78L140.59 292.52zM139.11 285.78L144.08 282.91L144.08 288.65zM142.60 281.90L147.56 279.03L147.56 284.77zM146.08 278.03L151.05 275.16L151.05 280.90zM149.57 274.15L154.54 271.28L154.54 277.02zM153.06 270.28L158.03 267.41L158.03 273.14zM156.55 266.40L161.52 263.53L161.52 269.27zM160.04 262.53L165.00 259.66L165.00 265.39zM163.52 258.65L168.49 255.78L168.49 261.52zM167.01 254.78L171.98 251.91L171.98 257.65zM170.50 250.91L175.47 248.04L175.47 253.78zM173.99 247.05L178.96 244.18L178.96 249.92zM177.48 243.19L182.44 240.32L182.44 246.05zM180.96 239.33L185.93 236.46L185.93 242.20zM184.45 235.47L189.42 232.60L189.42 238.34zM187.94 231.62L192.91 228.76L192.91 234.49zM191.43 227.78L196.40 224.91L196.40 230.65zM194.92 223.94L199.88 221.07L199.88 226.81zM198.40 220.11L203.37 217.24L203.37 222.98zM201.89 216.29L206.86 213.42L206.86 219.15zM205.38 212.47L210.35 209.60L210.35 215.34zM208.87 208.67L213.84 205.81L213.84 211.54zM212.36 204.90L217.32 202.03L217.32 207.76zM215.84 201.13L220.81 198.26L220.81 203.99zM219.33 197.36L224.30 194.49L224.30 200.23zM222.82 193.58L227.79 190.72L227.79 196.45zM226.31 189.80L231.28 186.93L231.28 192.67zM229.80 185.99L234.76 183.12L234.76 188.86zM233.28 182.14L238.25 179.27L238.25 185.00zM236.77 178.18L241.74 175.31L241.74 181.05zM240.26 174.24L245.23 171.37L245.23 177.10zM243.75 170.44L248.72 167.57L248.72 173.31zM247.24 166.89L252.20 164.02L252.20 169.75zM250.72 163.49L255.69 160.62L255.69 166.36zM254.21 160.21L259.18 157.34L259.18 163.08zM257.70 157.01L262.67 154.14L262.67 159.88zM261.19 153.85L266.16 150.98L266.16 156.72zM264.68 150.70L269.64 147.83L269.64 153.57zM268.16 147.53L273.13 144.66L273.13 150.40zM271.65 144.29L276.62 141.43L276.62 147.16zM275.14 141.00L280.11 138.13L280.11 143.87zM278.63 137.69L283.60 134.82L283.60 140.56zM282.12 134.36L287.08 131.49L287.08 137.23zM285.60 131.03L290.57 128.16L290.57 133.90zM289.09 127.69L294.06 124.83L294.06 130.56zM292.58 124.36L297.55 121.49L297.55 127.23zM296.07 121.04L301.04 118.17L301.04 123.91zM299.56 117.73L304.52 114.87L304.52 120.60zM303.04 114.43L308.01 111.56L308.01 117.30zM306.53 111.11L311.50 108.24L311.50 113.98zM310.02 107.77L314.99 104.90L314.99 110.64zM313.51 104.44L318.48 101.57L318.48 107.30zM317.00 101.11L321.96 98.24L321.96 103.98zM320.48 97.81L325.45 94.94L325.45 100.68zM323.97 94.54L328.94 91.68L328.94 97.41zM327.46 91.32L332.43 88.45L332.43 94.19zM330.95 88.16L335.92 85.29L335.92 91.03zM334.44 85.06L339.40 82.20L339.40 87.93zM337.92 82.03L342.89 79.16L342.89 84.90zM341.41 79.07L346.38 76.20L346.38 81.93zM344.90 76.25L349.87 73.38L349.87 79.11zM348.39 73.60L353.36 70.73L353.36 76.47zM351.88 71.07L356.84 68.20L356.84 73.94zM355.36 68.63L360.33 65.76L360.33 71.50zM358.85 66.26L363.82 63.39L363.82 69.13zM362.34 63.92L367.31 61.05L367.31 66.79zM365.83 61.61L370.80 58.74L370.80 64.47zM369.32 59.27L374.28 56.41L374.28 62.14zM372.80 56.95L377.77 54.08L377.77 59.82zM376.29 54.68L381.26 51.81L381.26 57.55zM379.78 52.51L384.75 49.64L384.75 55.38zM383.27 50.49L388.24 47.62L388.24 53.36zM386.76 48.60L391.72 45.73L391.72 51.46zM390.24 46.78L395.21 43.92L395.21 49.65zM393.73 45.06L398.70 42.20L398.70 47.93zM397.22 43.45L402.19 40.58L402.19 46.32zM400.71 41.94L405.68 39.07L405.68 44.81zM404.20 40.51L409.16 37.64L409.16 43.38zM407.68 39.19L412.65 36.33L412.65 42.06zM411.17 38.09L416.14 35.22L416.14 40.96zM414.66 37.19L419.63 34.32L419.63 40.06zM418.15 36.53L423.12 33.66L423.12 39.39zM421.64 36.15L426.60 33.29L426.60 39.02zM425.12 35.56L430.09 32.69L430.09 38.42zM428.61 35.24L433.58 32.37L433.58 38.11zM432.10 35.10L437.07 32.23L437.07 37.97zM435.59 35.10L440.56 32.23L440.56 37.97zM439.08 35.10L444.04 32.23L444.04 37.97zM442.56 35.10L447.53 32.23L447.53 37.97zM446.05 35.10L451.02 32.23L451.02 37.97zM449.54 35.10L454.51 32.23L454.51 37.97zM453.03 35.10L458.00 32.23L458.00 37.97zM456.52 35.10L461.48 32.23L461.48 37.97zM460.00 35.10L464.97 32.23L464.97 37.97zM463.49 35.10L468.46 32.23L468.46 37.97zM466.98 35.10L471.95 32.23L471.95 37.97zM470.47 35.10L475.44 32.23L475.44 37.97zM473.96 35.10L478.92 32.23L478.92 37.97zM477.44 35.10L482.41 32.23L482.41 37.97zM480.93 35.10L485.90 32.23L485.90 37.97zM484.42 35.10L489.39 32.23L489.39 37.97zM487.91 35.10L492.88 32.23L492.88 37.97zM491.40 35.10L496.36 32.23L496.36 37.97zM494.88 35.10L499.85 32.23L499.85 37.97zM498.37 35.10L503.34 32.23L503.34 37.97zM501.86 35.10L506.83 32.23L506.83 37.97zM505.35 35.10L510.32 32.23L510.32 37.97z" fill="#ff00ff"/></g><rect x="401.3" y="294.3" width="99.2" height="33.3" fill="#b4b4b4" fill-opacity="0.45" stroke="#fa5a5a" stroke-width="1"/><rect x="422.4" y="22.3" width="82.0" height="28.7" fill="#b4b4b4" fill-opacity="0.45" stroke="#f9a0a0" stroke-width="1"/><rect x="55.5" y="6.9" width="488.4" height="341.90000000000003" fill="none" stroke="#000" stroke-width="1.5"/><path d="M90.10 348.8v6M159.86 348.8v6M229.62 348.8v6M299.38 348.8v6M369.14 348.8v6M438.90 348.8v6M508.66 348.8v6M55.22 348.8v3.5M124.98 348.8v3.5M194.74 348.8v3.5M264.50 348.8v3.5M334.26 348.8v3.5M404.02 348.8v3.5M473.78 348.8v3.5M543.54 348.8v3.5M55.5 320.10h-6M55.5 263.10h-6M55.5 206.10h-6M55.5 149.10h-6M55.5 92.10h-6M55.5 35.10h-6M55.5 348.60h-3.5M55.5 291.60h-3.5M55.5 234.60h-3.5M55.5 177.60h-3.5M55.5 120.60h-3.5M55.5 63.60h-3.5M55.5 6.60h-3.5" stroke="#000" stroke-width="1.5" fill="none"/><g font-size="14.4px" text-anchor="middle"><text x="90.1" y="371.3">0</text><text x="159.9" y="371.3">200</text><text x="229.6" y="371.3">400</text><text x="299.4" y="371.3">600</text><text x="369.1" y="371.3">800</text><text x="438.9" y="371.3">1000</text><text x="508.7" y="371.3">1200</text></g><g font-size="14.4px" text-anchor="end"><text x="44.6" y="324.7">0.0</text><text x="44.6" y="267.7">0.2</text><text x="44.6" y="210.7">0.4</text><text x="44.6" y="153.7">0.6</text><text x="44.6" y="96.7">0.8</text><text x="44.6" y="39.7">1.0</text></g><text x="299.7" y="397.7" font-size="17.4px" text-anchor="middle">time(min)</text><text transform="translate(16.6,177.2) rotate(-90)" font-size="17.3px" text-anchor="middle">solid fraction</text><g font-size="14.3px"><path d="M67.7 121h31" stroke="#000" stroke-width="1.4" fill="none"/><path d="M81.05 118.85h4.30v4.30h-4.30z" fill="#000"/><text x="103.3" y="125.8">No Fin</text><path d="M67.7 158.4h31" stroke="#ff0000" stroke-width="1.4" fill="none"/><path d="M81.16 158.40a2.04 2.04 0 1 0 4.08 0a2.04 2.04 0 1 0 -4.08 0z" fill="#ff0000"/><text x="103.3" y="163.20000000000002">A=4mm<tspan dy="-5.4" font-size="9.6px">2</tspan></text><path d="M67.7 177.7h31" stroke="#00ff00" stroke-width="1.4" fill="none"/><path d="M83.20 174.70L85.80 179.20L80.60 179.20z" fill="#00ff00"/><text x="103.3" y="182.5">A=7mm<tspan dy="-5.4" font-size="9.6px">2</tspan></text><path d="M67.7 197.3h31" stroke="#0000ff" stroke-width="1.4" fill="none"/><path d="M83.20 200.30L85.80 195.80L80.60 195.80z" fill="#0000ff"/><text x="103.3" y="202.10000000000002">A=10mm<tspan dy="-5.4" font-size="9.6px">2</tspan></text><path d="M67.7 217h31" stroke="#00ffff" stroke-width="1.4" fill="none"/><path d="M83.20 214.24L85.96 217.00L83.20 219.76L80.44 217.00z" fill="#00ffff"/><text x="103.3" y="221.8">A=13mm<tspan dy="-5.4" font-size="9.6px">2</tspan></text><path d="M67.7 236.7h31" stroke="#ff00ff" stroke-width="1.4" fill="none"/><path d="M80.20 236.70L84.70 234.10L84.70 239.30z" fill="#ff00ff"/><text x="103.3" y="241.5">A=16mm<tspan dy="-5.4" font-size="9.6px">2</tspan></text><text x="67.5" y="143.6">a=25mm</text></g><path d="M414.7 28.7L344 41.4" stroke="#333" stroke-width="0.8" fill="none"/><path d="M336.8 42.7L345.2 38.6L346 43.9z" fill="#000"/><path d="M453.2 302.3L465.2 279.5" stroke="#333" stroke-width="0.8" fill="none"/><path d="M468.3 273.3L468.2 282.2L462.8 279.3z" fill="#000"/><rect x="216.2" y="15.6" width="104.10000000000002" height="74.60000000000001" fill="#fff"/><svg x="216.2" y="12.6" width="104.10000000000002" height="77.60000000000001" viewBox="216.2 12.6 104.10000000000002 77.60000000000001"><polyline points="216.34,170.65 220.88,161.94 225.42,153.47 229.96,145.29 234.50,137.41 239.04,129.88 243.58,122.75 248.12,115.96 252.66,109.41 257.20,103.01 261.74,96.69 266.28,90.34 270.82,84.12 275.36,77.91 279.90,72.31 284.44,67.96 288.98,62.98 293.52,58.01 298.06,53.91 302.60,50.05 307.14,46.57 311.68,43.46 316.22,41.59 320.76,40.60" fill="none" stroke="#000" stroke-width="1.1"/><path d="M214.49 168.80h3.70v3.70h-3.70zM219.03 160.09h3.70v3.70h-3.70zM223.57 151.62h3.70v3.70h-3.70zM228.11 143.44h3.70v3.70h-3.70zM232.65 135.56h3.70v3.70h-3.70zM237.19 128.03h3.70v3.70h-3.70zM241.73 120.90h3.70v3.70h-3.70zM246.27 114.11h3.70v3.70h-3.70zM250.81 107.56h3.70v3.70h-3.70zM255.35 101.16h3.70v3.70h-3.70zM259.89 94.84h3.70v3.70h-3.70zM264.43 88.49h3.70v3.70h-3.70zM268.97 82.27h3.70v3.70h-3.70zM273.51 76.06h3.70v3.70h-3.70zM278.05 70.46h3.70v3.70h-3.70zM282.59 66.11h3.70v3.70h-3.70zM287.13 61.13h3.70v3.70h-3.70zM291.67 56.16h3.70v3.70h-3.70zM296.21 52.06h3.70v3.70h-3.70zM300.75 48.20h3.70v3.70h-3.70zM305.29 44.72h3.70v3.70h-3.70zM309.83 41.61h3.70v3.70h-3.70zM314.37 39.74h3.70v3.70h-3.70zM318.91 38.75h3.70v3.70h-3.70z" fill="#000"/><polyline points="216.34,52.41 220.88,48.43 225.42,45.70 229.96,43.46 234.50,41.84 239.04,40.60 243.58,40.60 248.12,40.60 252.66,40.60 257.20,40.60 261.74,40.60 266.28,40.60 270.82,40.60 275.36,40.60 279.90,40.60 284.44,40.60 288.98,40.60 293.52,40.60 298.06,40.60 302.60,40.60 307.14,40.60 311.68,40.60 316.22,40.60 320.76,40.60" fill="none" stroke="#ff0000" stroke-width="1.3"/><path d="M214.00 52.41a2.34 2.34 0 1 0 4.67 0a2.34 2.34 0 1 0 -4.67 0zM218.54 48.43a2.34 2.34 0 1 0 4.67 0a2.34 2.34 0 1 0 -4.67 0zM223.08 45.70a2.34 2.34 0 1 0 4.67 0a2.34 2.34 0 1 0 -4.67 0zM227.62 43.46a2.34 2.34 0 1 0 4.67 0a2.34 2.34 0 1 0 -4.67 0zM232.16 41.84a2.34 2.34 0 1 0 4.67 0a2.34 2.34 0 1 0 -4.67 0zM236.70 40.60a2.34 2.34 0 1 0 4.67 0a2.34 2.34 0 1 0 -4.67 0zM241.24 40.60a2.34 2.34 0 1 0 4.67 0a2.34 2.34 0 1 0 -4.67 0zM245.78 40.60a2.34 2.34 0 1 0 4.67 0a2.34 2.34 0 1 0 -4.67 0zM250.32 40.60a2.34 2.34 0 1 0 4.67 0a2.34 2.34 0 1 0 -4.67 0zM254.86 40.60a2.34 2.34 0 1 0 4.67 0a2.34 2.34 0 1 0 -4.67 0zM259.40 40.60a2.34 2.34 0 1 0 4.67 0a2.34 2.34 0 1 0 -4.67 0zM263.94 40.60a2.34 2.34 0 1 0 4.67 0a2.34 2.34 0 1 0 -4.67 0zM268.48 40.60a2.34 2.34 0 1 0 4.67 0a2.34 2.34 0 1 0 -4.67 0zM273.02 40.60a2.34 2.34 0 1 0 4.67 0a2.34 2.34 0 1 0 -4.67 0zM277.56 40.60a2.34 2.34 0 1 0 4.67 0a2.34 2.34 0 1 0 -4.67 0zM282.10 40.60a2.34 2.34 0 1 0 4.67 0a2.34 2.34 0 1 0 -4.67 0zM286.64 40.60a2.34 2.34 0 1 0 4.67 0a2.34 2.34 0 1 0 -4.67 0zM291.18 40.60a2.34 2.34 0 1 0 4.67 0a2.34 2.34 0 1 0 -4.67 0zM295.72 40.60a2.34 2.34 0 1 0 4.67 0a2.34 2.34 0 1 0 -4.67 0zM300.26 40.60a2.34 2.34 0 1 0 4.67 0a2.34 2.34 0 1 0 -4.67 0zM304.80 40.60a2.34 2.34 0 1 0 4.67 0a2.34 2.34 0 1 0 -4.67 0zM309.34 40.60a2.34 2.34 0 1 0 4.67 0a2.34 2.34 0 1 0 -4.67 0zM313.88 40.60a2.34 2.34 0 1 0 4.67 0a2.34 2.34 0 1 0 -4.67 0zM318.42 40.60a2.34 2.34 0 1 0 4.67 0a2.34 2.34 0 1 0 -4.67 0z" fill="#ff0000"/><polyline points="216.34,48.09 220.88,44.93 225.42,43.01 229.96,41.74 234.50,41.10 239.04,40.60 243.58,40.60 248.12,40.60 252.66,40.60 257.20,40.60 261.74,40.60 266.28,40.60 270.82,40.60 275.36,40.60 279.90,40.60 284.44,40.60 288.98,40.60 293.52,40.60 298.06,40.60 302.60,40.60 307.14,40.60 311.68,40.60 316.22,40.60 320.76,40.60" fill="none" stroke="#00ff00" stroke-width="1.3"/><path d="M216.34 44.65L219.32 49.80L213.36 49.80zM220.88 41.49L223.86 46.65L217.90 46.65zM225.42 39.57L228.40 44.73L222.44 44.73zM229.96 38.31L232.94 43.46L226.98 43.46zM234.50 37.66L237.48 42.82L231.52 42.82zM239.04 37.16L242.02 42.32L236.06 42.32zM243.58 37.16L246.56 42.32L240.60 42.32zM248.12 37.16L251.10 42.32L245.14 42.32zM252.66 37.16L255.64 42.32L249.68 42.32zM257.20 37.16L260.18 42.32L254.22 42.32zM261.74 37.16L264.72 42.32L258.76 42.32zM266.28 37.16L269.26 42.32L263.30 42.32zM270.82 37.16L273.80 42.32L267.84 42.32zM275.36 37.16L278.34 42.32L272.38 42.32zM279.90 37.16L282.88 42.32L276.92 42.32zM284.44 37.16L287.42 42.32L281.46 42.32zM288.98 37.16L291.96 42.32L286.00 42.32zM293.52 37.16L296.50 42.32L290.54 42.32zM298.06 37.16L301.04 42.32L295.08 42.32zM302.60 37.16L305.58 42.32L299.62 42.32zM307.14 37.16L310.12 42.32L304.16 42.32zM311.68 37.16L314.66 42.32L308.70 42.32zM316.22 37.16L319.20 42.32L313.24 42.32zM320.76 37.16L323.74 42.32L317.78 42.32z" fill="#00ff00"/><polyline points="216.34,47.00 220.88,44.05 225.42,42.34 229.96,41.32 234.50,40.91 239.04,40.60 243.58,40.60 248.12,40.60 252.66,40.60 257.20,40.60 261.74,40.60 266.28,40.60 270.82,40.60 275.36,40.60 279.90,40.60 284.44,40.60 288.98,40.60 293.52,40.60 298.06,40.60 302.60,40.60 307.14,40.60 311.68,40.60 316.22,40.60 320.76,40.60" fill="none" stroke="#0000ff" stroke-width="1.3"/><path d="M216.34 50.44L219.32 45.29L213.36 45.29zM220.88 47.49L223.86 42.33L217.90 42.33zM225.42 45.78L228.40 40.62L222.44 40.62zM229.96 44.75L232.94 39.60L226.98 39.60zM234.50 44.35L237.48 39.19L231.52 39.19zM239.04 44.04L242.02 38.88L236.06 38.88zM243.58 44.04L246.56 38.88L240.60 38.88zM248.12 44.04L251.10 38.88L245.14 38.88zM252.66 44.04L255.64 38.88L249.68 38.88zM257.20 44.04L260.18 38.88L254.22 38.88zM261.74 44.04L264.72 38.88L258.76 38.88zM266.28 44.04L269.26 38.88L263.30 38.88zM270.82 44.04L273.80 38.88L267.84 38.88zM275.36 44.04L278.34 38.88L272.38 38.88zM279.90 44.04L282.88 38.88L276.92 38.88zM284.44 44.04L287.42 38.88L281.46 38.88zM288.98 44.04L291.96 38.88L286.00 38.88zM293.52 44.04L296.50 38.88L290.54 38.88zM298.06 44.04L301.04 38.88L295.08 38.88zM302.60 44.04L305.58 38.88L299.62 38.88zM307.14 44.04L310.12 38.88L304.16 38.88zM311.68 44.04L314.66 38.88L308.70 38.88zM316.22 44.04L319.20 38.88L313.24 38.88zM320.76 44.04L323.74 38.88L317.78 38.88z" fill="#0000ff"/><polyline points="216.34,45.92 220.88,43.17 225.42,41.67 229.96,40.89 234.50,40.72 239.04,40.60 243.58,40.60 248.12,40.60 252.66,40.60 257.20,40.60 261.74,40.60 266.28,40.60 270.82,40.60 275.36,40.60 279.90,40.60 284.44,40.60 288.98,40.60 293.52,40.60 298.06,40.60 302.60,40.60 307.14,40.60 311.68,40.60 316.22,40.60 320.76,40.60" fill="none" stroke="#00ffff" stroke-width="1.3"/><path d="M216.34 42.76L219.50 45.92L216.34 49.08L213.18 45.92zM220.88 40.01L224.04 43.17L220.88 46.34L217.72 43.17zM225.42 38.51L228.58 41.67L225.42 44.83L222.26 41.67zM229.96 37.72L233.12 40.89L229.96 44.05L226.80 40.89zM234.50 37.56L237.66 40.72L234.50 43.89L231.34 40.72zM239.04 37.44L242.20 40.60L239.04 43.76L235.88 40.60zM243.58 37.44L246.74 40.60L243.58 43.76L240.42 40.60zM248.12 37.44L251.28 40.60L248.12 43.76L244.96 40.60zM252.66 37.44L255.82 40.60L252.66 43.76L249.50 40.60zM257.20 37.44L260.36 40.60L257.20 43.76L254.04 40.60zM261.74 37.44L264.90 40.60L261.74 43.76L258.58 40.60zM266.28 37.44L269.44 40.60L266.28 43.76L263.12 40.60zM270.82 37.44L273.98 40.60L270.82 43.76L267.66 40.60zM275.36 37.44L278.52 40.60L275.36 43.76L272.20 40.60zM279.90 37.44L283.06 40.60L279.90 43.76L276.74 40.60zM284.44 37.44L287.60 40.60L284.44 43.76L281.28 40.60zM288.98 37.44L292.14 40.60L288.98 43.76L285.82 40.60zM293.52 37.44L296.68 40.60L293.52 43.76L290.36 40.60zM298.06 37.44L301.22 40.60L298.06 43.76L294.90 40.60zM302.60 37.44L305.76 40.60L302.60 43.76L299.44 40.60zM307.14 37.44L310.30 40.60L307.14 43.76L303.98 40.60zM311.68 37.44L314.84 40.60L311.68 43.76L308.52 40.60zM316.22 37.44L319.38 40.60L316.22 43.76L313.06 40.60zM320.76 37.44L323.92 40.60L320.76 43.76L317.60 40.60z" fill="#00ffff"/><polyline points="216.34,45.20 220.88,42.59 225.42,41.22 229.96,40.60 234.50,40.60 239.04,40.60 243.58,40.60 248.12,40.60 252.66,40.60 257.20,40.60 261.74,40.60 266.28,40.60 270.82,40.60 275.36,40.60 279.90,40.60 284.44,40.60 288.98,40.60 293.52,40.60 298.06,40.60 302.60,40.60 307.14,40.60 311.68,40.60 316.22,40.60 320.76,40.60" fill="none" stroke="#ff00ff" stroke-width="1.3"/><path d="M212.90 45.20L218.06 42.22L218.06 48.18zM217.44 42.59L222.60 39.61L222.60 45.57zM221.98 41.22L227.14 38.24L227.14 44.20zM226.52 40.60L231.68 37.62L231.68 43.58zM231.06 40.60L236.22 37.62L236.22 43.58zM235.60 40.60L240.76 37.62L240.76 43.58zM240.14 40.60L245.30 37.62L245.30 43.58zM244.68 40.60L249.84 37.62L249.84 43.58zM249.22 40.60L254.38 37.62L254.38 43.58zM253.76 40.60L258.92 37.62L258.92 43.58zM258.30 40.60L263.46 37.62L263.46 43.58zM262.84 40.60L268.00 37.62L268.00 43.58zM267.38 40.60L272.54 37.62L272.54 43.58zM271.92 40.60L277.08 37.62L277.08 43.58zM276.46 40.60L281.62 37.62L281.62 43.58zM281.00 40.60L286.16 37.62L286.16 43.58zM285.54 40.60L290.70 37.62L290.70 43.58zM290.08 40.60L295.24 37.62L295.24 43.58zM294.62 40.60L299.78 37.62L299.78 43.58zM299.16 40.60L304.32 37.62L304.32 43.58zM303.70 40.60L308.86 37.62L308.86 43.58zM308.24 40.60L313.40 37.62L313.40 43.58zM312.78 40.60L317.94 37.62L317.94 43.58zM317.32 40.60L322.48 37.62L322.48 43.58z" fill="#ff00ff"/></svg><rect x="216.2" y="15.6" width="104.10000000000002" height="74.60000000000001" fill="none" stroke="#000" stroke-width="1.45"/><path d="M216.2 90.34h-6.3M216.2 65.47h-6.3M216.2 40.60h-6.3M216.2 15.73h-6.3M216.2 77.91h-3.3M216.2 53.04h-3.3M216.2 28.16h-3.3M234.50 90.2v6M279.90 90.2v6M257.20 90.2v3.6M302.60 90.2v3.6" stroke="#000" stroke-width="1.45" fill="none"/><g font-size="10.7px" text-anchor="end"><text x="204.8" y="93.9">0.96</text><text x="204.8" y="69.1">0.98</text><text x="204.8" y="44.2">1.00</text><text x="204.8" y="19.3">1.02</text></g><g font-size="10.7px" text-anchor="middle"><text x="234.5" y="109.6">1000</text><text x="279.9" y="109.6">1100</text></g><text x="267.8" y="130.6" font-size="12.8px" text-anchor="middle">time(min)</text><text transform="translate(177.9,52.4) rotate(-90)" font-size="13px" text-anchor="middle">solid fraction</text><rect x="395.2" y="118.6" width="138.8" height="108.4" fill="#fff"/><svg x="395.2" y="118.6" width="139.8" height="108.4" viewBox="395.2 118.6 139.8 108.4"><polyline points="395.20,128.77 400.75,134.06 406.30,139.27 411.86,144.48 417.41,149.46 422.96,154.68 428.51,159.66 434.06,164.25 439.62,168.91 445.17,173.58 450.72,177.94 456.27,181.98 461.82,186.11 467.38,190.15 472.93,193.65 478.48,197.15 484.03,200.66 489.58,203.69 495.14,207.04 500.69,209.68 506.24,212.25 511.79,214.58 517.34,216.37 522.90,217.77 528.45,218.71 534.00,219.25" fill="none" stroke="#4d4d4d" stroke-width="1.1"/><path d="M393.35 126.92h3.70v3.70h-3.70zM398.90 132.21h3.70v3.70h-3.70zM404.45 137.42h3.70v3.70h-3.70zM410.01 142.63h3.70v3.70h-3.70zM415.56 147.61h3.70v3.70h-3.70zM421.11 152.83h3.70v3.70h-3.70zM426.66 157.81h3.70v3.70h-3.70zM432.21 162.40h3.70v3.70h-3.70zM437.77 167.06h3.70v3.70h-3.70zM443.32 171.73h3.70v3.70h-3.70zM448.87 176.09h3.70v3.70h-3.70zM454.42 180.13h3.70v3.70h-3.70zM459.97 184.26h3.70v3.70h-3.70zM465.53 188.30h3.70v3.70h-3.70zM471.08 191.80h3.70v3.70h-3.70zM476.63 195.30h3.70v3.70h-3.70zM482.18 198.81h3.70v3.70h-3.70zM487.73 201.84h3.70v3.70h-3.70zM493.29 205.19h3.70v3.70h-3.70zM498.84 207.83h3.70v3.70h-3.70zM504.39 210.40h3.70v3.70h-3.70zM509.94 212.73h3.70v3.70h-3.70zM515.49 214.52h3.70v3.70h-3.70zM521.05 215.92h3.70v3.70h-3.70zM526.60 216.86h3.70v3.70h-3.70zM532.15 217.40h3.70v3.70h-3.70z" fill="#4d4d4d"/><polyline points="395.20,207.35 400.75,209.53 406.30,212.40 411.86,215.20 417.41,217.66 422.96,219.25 428.51,219.25 434.06,219.25 439.62,219.25 445.17,219.25 450.72,219.25 456.27,219.25 461.82,219.25 467.38,219.25 472.93,219.25 478.48,219.25 484.03,219.25 489.58,219.25 495.14,219.25 500.69,219.25 506.24,219.25 511.79,219.25 517.34,219.25 522.90,219.25 528.45,219.25 534.00,219.25" fill="none" stroke="#ff0000" stroke-width="1.3"/><path d="M392.86 207.35a2.34 2.34 0 1 0 4.67 0a2.34 2.34 0 1 0 -4.67 0zM398.41 209.53a2.34 2.34 0 1 0 4.67 0a2.34 2.34 0 1 0 -4.67 0zM403.97 212.40a2.34 2.34 0 1 0 4.67 0a2.34 2.34 0 1 0 -4.67 0zM409.52 215.20a2.34 2.34 0 1 0 4.67 0a2.34 2.34 0 1 0 -4.67 0zM415.07 217.66a2.34 2.34 0 1 0 4.67 0a2.34 2.34 0 1 0 -4.67 0zM420.62 219.25a2.34 2.34 0 1 0 4.67 0a2.34 2.34 0 1 0 -4.67 0zM426.17 219.25a2.34 2.34 0 1 0 4.67 0a2.34 2.34 0 1 0 -4.67 0zM431.73 219.25a2.34 2.34 0 1 0 4.67 0a2.34 2.34 0 1 0 -4.67 0zM437.28 219.25a2.34 2.34 0 1 0 4.67 0a2.34 2.34 0 1 0 -4.67 0zM442.83 219.25a2.34 2.34 0 1 0 4.67 0a2.34 2.34 0 1 0 -4.67 0zM448.38 219.25a2.34 2.34 0 1 0 4.67 0a2.34 2.34 0 1 0 -4.67 0zM453.93 219.25a2.34 2.34 0 1 0 4.67 0a2.34 2.34 0 1 0 -4.67 0zM459.49 219.25a2.34 2.34 0 1 0 4.67 0a2.34 2.34 0 1 0 -4.67 0zM465.04 219.25a2.34 2.34 0 1 0 4.67 0a2.34 2.34 0 1 0 -4.67 0zM470.59 219.25a2.34 2.34 0 1 0 4.67 0a2.34 2.34 0 1 0 -4.67 0zM476.14 219.25a2.34 2.34 0 1 0 4.67 0a2.34 2.34 0 1 0 -4.67 0zM481.69 219.25a2.34 2.34 0 1 0 4.67 0a2.34 2.34 0 1 0 -4.67 0zM487.25 219.25a2.34 2.34 0 1 0 4.67 0a2.34 2.34 0 1 0 -4.67 0zM492.80 219.25a2.34 2.34 0 1 0 4.67 0a2.34 2.34 0 1 0 -4.67 0zM498.35 219.25a2.34 2.34 0 1 0 4.67 0a2.34 2.34 0 1 0 -4.67 0zM503.90 219.25a2.34 2.34 0 1 0 4.67 0a2.34 2.34 0 1 0 -4.67 0zM509.45 219.25a2.34 2.34 0 1 0 4.67 0a2.34 2.34 0 1 0 -4.67 0zM515.01 219.25a2.34 2.34 0 1 0 4.67 0a2.34 2.34 0 1 0 -4.67 0zM520.56 219.25a2.34 2.34 0 1 0 4.67 0a2.34 2.34 0 1 0 -4.67 0zM526.11 219.25a2.34 2.34 0 1 0 4.67 0a2.34 2.34 0 1 0 -4.67 0zM531.66 219.25a2.34 2.34 0 1 0 4.67 0a2.34 2.34 0 1 0 -4.67 0z" fill="#ff0000"/><polyline points="395.20,209.21 400.75,211.39 406.30,214.27 411.86,216.82 417.41,218.59 422.96,219.25 428.51,219.25 434.06,219.25 439.62,219.25 445.17,219.25 450.72,219.25 456.27,219.25 461.82,219.25 467.38,219.25 472.93,219.25 478.48,219.25 484.03,219.25 489.58,219.25 495.14,219.25 500.69,219.25 506.24,219.25 511.79,219.25 517.34,219.25 522.90,219.25 528.45,219.25 534.00,219.25" fill="none" stroke="#00ff00" stroke-width="1.3"/><path d="M395.20 205.78L398.18 210.93L392.22 210.93zM400.75 207.95L403.73 213.11L397.78 213.11zM406.30 210.83L409.28 215.99L403.33 215.99zM411.86 213.39L414.83 218.54L408.88 218.54zM417.41 215.15L420.38 220.31L414.43 220.31zM422.96 215.81L425.94 220.97L419.98 220.97zM428.51 215.81L431.49 220.97L425.54 220.97zM434.06 215.81L437.04 220.97L431.09 220.97zM439.62 215.81L442.59 220.97L436.64 220.97zM445.17 215.81L448.14 220.97L442.19 220.97zM450.72 215.81L453.70 220.97L447.74 220.97zM456.27 215.81L459.25 220.97L453.30 220.97zM461.82 215.81L464.80 220.97L458.85 220.97zM467.38 215.81L470.35 220.97L464.40 220.97zM472.93 215.81L475.90 220.97L469.95 220.97zM478.48 215.81L481.46 220.97L475.50 220.97zM484.03 215.81L487.01 220.97L481.06 220.97zM489.58 215.81L492.56 220.97L486.61 220.97zM495.14 215.81L498.11 220.97L492.16 220.97zM500.69 215.81L503.66 220.97L497.71 220.97zM506.24 215.81L509.22 220.97L503.26 220.97zM511.79 215.81L514.77 220.97L508.82 220.97zM517.34 215.81L520.32 220.97L514.37 220.97zM522.90 215.81L525.87 220.97L519.92 220.97zM528.45 215.81L531.42 220.97L525.47 220.97zM534.00 215.81L536.98 220.97L531.02 220.97z" fill="#00ff00"/><polyline points="395.20,208.28 400.75,210.46 406.30,213.34 411.86,216.01 417.41,218.12 422.96,219.25 428.51,219.25 434.06,219.25 439.62,219.25 445.17,219.25 450.72,219.25 456.27,219.25 461.82,219.25 467.38,219.25 472.93,219.25 478.48,219.25 484.03,219.25 489.58,219.25 495.14,219.25 500.69,219.25 506.24,219.25 511.79,219.25 517.34,219.25 522.90,219.25 528.45,219.25 534.00,219.25" fill="none" stroke="#0000ff" stroke-width="1.3"/><path d="M395.20 211.72L398.18 206.56L392.22 206.56zM400.75 213.90L403.73 208.74L397.78 208.74zM406.30 216.77L409.28 211.62L403.33 211.62zM411.86 219.45L414.83 214.29L408.88 214.29zM417.41 221.56L420.38 216.40L414.43 216.40zM422.96 222.69L425.94 217.53L419.98 217.53zM428.51 222.69L431.49 217.53L425.54 217.53zM434.06 222.69L437.04 217.53L431.09 217.53zM439.62 222.69L442.59 217.53L436.64 217.53zM445.17 222.69L448.14 217.53L442.19 217.53zM450.72 222.69L453.70 217.53L447.74 217.53zM456.27 222.69L459.25 217.53L453.30 217.53zM461.82 222.69L464.80 217.53L458.85 217.53zM467.38 222.69L470.35 217.53L464.40 217.53zM472.93 222.69L475.90 217.53L469.95 217.53zM478.48 222.69L481.46 217.53L475.50 217.53zM484.03 222.69L487.01 217.53L481.06 217.53zM489.58 222.69L492.56 217.53L486.61 217.53zM495.14 222.69L498.11 217.53L492.16 217.53zM500.69 222.69L503.66 217.53L497.71 217.53zM506.24 222.69L509.22 217.53L503.26 217.53zM511.79 222.69L514.77 217.53L508.82 217.53zM517.34 222.69L520.32 217.53L514.37 217.53zM522.90 222.69L525.87 217.53L519.92 217.53zM528.45 222.69L531.42 217.53L525.47 217.53zM534.00 222.69L536.98 217.53L531.02 217.53z" fill="#0000ff"/><polyline points="395.20,208.51 400.75,210.69 406.30,213.57 411.86,216.22 417.41,218.24 422.96,219.25 428.51,219.25 434.06,219.25 439.62,219.25 445.17,219.25 450.72,219.25 456.27,219.25 461.82,219.25 467.38,219.25 472.93,219.25 478.48,219.25 484.03,219.25 489.58,219.25 495.14,219.25 500.69,219.25 506.24,219.25 511.79,219.25 517.34,219.25 522.90,219.25 528.45,219.25 534.00,219.25" fill="none" stroke="#00ffff" stroke-width="1.3"/><path d="M395.20 205.35L398.36 208.51L395.20 211.68L392.04 208.51zM400.75 207.53L403.91 210.69L400.75 213.85L397.59 210.69zM406.30 210.41L409.47 213.57L406.30 216.73L403.14 213.57zM411.86 213.05L415.02 216.22L411.86 219.38L408.69 216.22zM417.41 215.08L420.57 218.24L417.41 221.40L414.25 218.24zM422.96 216.09L426.12 219.25L422.96 222.41L419.80 219.25zM428.51 216.09L431.67 219.25L428.51 222.41L425.35 219.25zM434.06 216.09L437.23 219.25L434.06 222.41L430.90 219.25zM439.62 216.09L442.78 219.25L439.62 222.41L436.45 219.25zM445.17 216.09L448.33 219.25L445.17 222.41L442.01 219.25zM450.72 216.09L453.88 219.25L450.72 222.41L447.56 219.25zM456.27 216.09L459.43 219.25L456.27 222.41L453.11 219.25zM461.82 216.09L464.99 219.25L461.82 222.41L458.66 219.25zM467.38 216.09L470.54 219.25L467.38 222.41L464.21 219.25zM472.93 216.09L476.09 219.25L472.93 222.41L469.77 219.25zM478.48 216.09L481.64 219.25L478.48 222.41L475.32 219.25zM484.03 216.09L487.19 219.25L484.03 222.41L480.87 219.25zM489.58 216.09L492.75 219.25L489.58 222.41L486.42 219.25zM495.14 216.09L498.30 219.25L495.14 222.41L491.97 219.25zM500.69 216.09L503.85 219.25L500.69 222.41L497.53 219.25zM506.24 216.09L509.40 219.25L506.24 222.41L503.08 219.25zM511.79 216.09L514.95 219.25L511.79 222.41L508.63 219.25zM517.34 216.09L520.51 219.25L517.34 222.41L514.18 219.25zM522.90 216.09L526.06 219.25L522.90 222.41L519.73 219.25zM528.45 216.09L531.61 219.25L528.45 222.41L525.29 219.25zM534.00 216.09L537.16 219.25L534.00 222.41L530.84 219.25z" fill="#00ffff"/><polyline points="395.20,206.18 400.75,208.36 406.30,211.24 411.86,214.19 417.41,217.07 422.96,219.25 428.51,219.25 434.06,219.25 439.62,219.25 445.17,219.25 450.72,219.25 456.27,219.25 461.82,219.25 467.38,219.25 472.93,219.25 478.48,219.25 484.03,219.25 489.58,219.25 495.14,219.25 500.69,219.25 506.24,219.25 511.79,219.25 517.34,219.25 522.90,219.25 528.45,219.25 534.00,219.25" fill="none" stroke="#ff00ff" stroke-width="1.3"/><path d="M391.76 206.18L396.92 203.20L396.92 209.16zM397.31 208.36L402.47 205.38L402.47 211.33zM402.87 211.24L408.02 208.26L408.02 214.21zM408.42 214.19L413.57 211.22L413.57 217.17zM413.97 217.07L419.13 214.09L419.13 220.05zM419.52 219.25L424.68 216.27L424.68 222.23zM425.07 219.25L430.23 216.27L430.23 222.23zM430.63 219.25L435.78 216.27L435.78 222.23zM436.18 219.25L441.33 216.27L441.33 222.23zM441.73 219.25L446.89 216.27L446.89 222.23zM447.28 219.25L452.44 216.27L452.44 222.23zM452.83 219.25L457.99 216.27L457.99 222.23zM458.39 219.25L463.54 216.27L463.54 222.23zM463.94 219.25L469.09 216.27L469.09 222.23zM469.49 219.25L474.65 216.27L474.65 222.23zM475.04 219.25L480.20 216.27L480.20 222.23zM480.59 219.25L485.75 216.27L485.75 222.23zM486.15 219.25L491.30 216.27L491.30 222.23zM491.70 219.25L496.85 216.27L496.85 222.23zM497.25 219.25L502.41 216.27L502.41 222.23zM502.80 219.25L507.96 216.27L507.96 222.23zM508.35 219.25L513.51 216.27L513.51 222.23zM513.91 219.25L519.06 216.27L519.06 222.23zM519.46 219.25L524.61 216.27L524.61 222.23zM525.01 219.25L530.17 216.27L530.17 222.23zM530.56 219.25L535.72 216.27L535.72 222.23z" fill="#ff00ff"/></svg><rect x="395.2" y="118.6" width="138.8" height="108.4" fill="none" stroke="#000" stroke-width="1.45"/><path d="M395.2 219.25h-6.3M395.2 203.69h-6.3M395.2 188.13h-6.3M395.2 172.57h-6.3M395.2 157.01h-6.3M395.2 141.45h-6.3M395.2 125.89h-6.3M395.2 227.03h-3.3M395.2 211.47h-3.3M395.2 195.91h-3.3M395.2 180.35h-3.3M395.2 164.79h-3.3M395.2 149.23h-3.3M395.2 133.67h-3.3M395.20 227.0v6M450.72 227.0v6M506.24 227.0v6M422.96 227.0v3.6M478.48 227.0v3.6M534.00 227.0v3.6" stroke="#000" stroke-width="1.45" fill="none"/><g font-size="11.4px" text-anchor="end"><text x="384.6" y="223.3">0.00</text><text x="384.6" y="207.8">0.02</text><text x="384.6" y="192.2">0.04</text><text x="384.6" y="176.7">0.06</text><text x="384.6" y="161.1">0.08</text><text x="384.6" y="145.5">0.10</text><text x="384.6" y="130.0">0.12</text></g><g font-size="10.6px" text-anchor="middle"><text x="395.2" y="247">900</text><text x="450.7" y="247">1000</text><text x="506.2" y="247">1100</text></g><text x="464.4" y="267.7" font-size="12.8px" text-anchor="middle">time(min)</text><text transform="translate(355.5,173.2) rotate(-90)" font-size="13px" text-anchor="middle">solid fraction</text></svg></body></html>
